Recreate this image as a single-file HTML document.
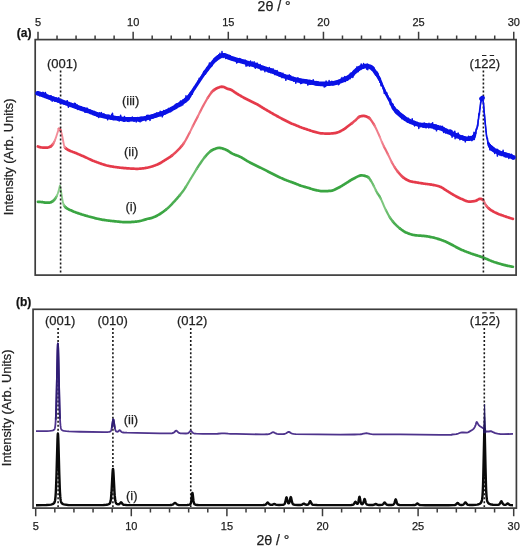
<!DOCTYPE html>
<html><head><meta charset="utf-8"><title>XRD patterns</title>
<style>
html,body{margin:0;padding:0;background:#fff;}
body{width:520px;height:546px;overflow:hidden;}
svg{display:block;}
text{font-family:"Liberation Sans",Arial,sans-serif;fill:#222;stroke:#222;stroke-width:0.25px;}
.tl{font-size:11px;text-anchor:middle;}
.hk{font-size:13px;text-anchor:middle;}
.lb{font-size:13px;}
.pl{font-size:12px;font-weight:bold;fill:#111;}
.ax{font-size:14px;}
.th{font-family:"DejaVu Sans",sans-serif;font-size:13px;}
.yl{font-size:12.9px;text-anchor:middle;}
</style></head>
<body>
<svg width="520" height="546" viewBox="0 0 520 546">
<rect width="520" height="546" fill="#fff"/>
<!-- panel a -->
<text x="257.6" y="11" class="ax">2<tspan class="th">θ</tspan> / °</text>
<text x="38" y="26" class="tl">5</text><text x="133.15" y="26" class="tl">10</text><text x="228.3" y="26" class="tl">15</text><text x="323.45" y="26" class="tl">20</text><text x="418.6" y="26" class="tl">25</text><text x="513.75" y="26" class="tl">30</text>
<text x="16.8" y="37.1" class="pl">(a)</text>
<path d="M38 31.7 V39.6M57.03 35.6 V39.6M76.06 35.6 V39.6M95.09 35.6 V39.6M114.12 35.6 V39.6M133.15 31.7 V39.6M152.18 35.6 V39.6M171.21 35.6 V39.6M190.24 35.6 V39.6M209.27 35.6 V39.6M228.3 31.7 V39.6M247.33 35.6 V39.6M266.36 35.6 V39.6M285.39 35.6 V39.6M304.42 35.6 V39.6M323.45 31.7 V39.6M342.48 35.6 V39.6M361.51 35.6 V39.6M380.54 35.6 V39.6M399.57 35.6 V39.6M418.6 31.7 V39.6M437.63 35.6 V39.6M456.66 35.6 V39.6M475.69 35.6 V39.6M494.72 35.6 V39.6M513.75 31.7 V39.6" stroke="#3c3c3c" stroke-width="1.5" fill="none"/>
<rect x="35.2" y="39.6" width="480.9" height="235.5" fill="none" stroke="#3c3c3c" stroke-width="1.7"/>
<text class="yl" transform="translate(13 156.9) rotate(-90)">Intensity (Arb. Units)</text>
<path d="M37.9 201.8L38.9 201.86M38.9 201.86L39.9 201.93M39.9 201.93L40.9 202.01M40.9 202.01L41.9 202.1M41.9 202.1L42.9 202.23M42.9 202.23L43.9 202.4M43.9 202.4L44.9 202.57M44.9 202.57L45.9 202.68M45.9 202.68L46.9 202.7M46.9 202.7L47.9 202.66M47.9 202.66L48.9 202.6M48.9 202.6L49.9 202.51M49.9 202.51L50.9 202.27M50.9 202.27L51.9 201.76M51.9 201.76L52.9 201.06M65.9 207.56L66.9 208.31M66.9 208.31L67.9 208.93M67.9 208.93L68.9 209.46M68.9 209.46L69.9 209.93M69.9 209.93L70.9 210.36M70.9 210.36L71.9 210.8M71.9 210.8L72.9 211.24M72.9 211.24L73.9 211.65M73.9 211.65L74.9 212.05M74.9 212.05L75.9 212.42M75.9 212.42L76.9 212.79M76.9 212.79L77.9 213.13M77.9 213.13L78.9 213.47M78.9 213.47L79.9 213.81M79.9 213.81L80.9 214.13M80.9 214.13L81.9 214.46M81.9 214.46L82.9 214.77M82.9 214.77L83.9 215.08M83.9 215.08L84.9 215.38M84.9 215.38L85.9 215.68M85.9 215.68L86.9 215.96M86.9 215.96L87.9 216.24M87.9 216.24L88.9 216.51M88.9 216.51L89.9 216.77M89.9 216.77L90.9 217.03M90.9 217.03L91.9 217.29M91.9 217.29L92.9 217.55M92.9 217.55L93.9 217.81M93.9 217.81L94.9 218.07M94.9 218.07L95.9 218.32M95.9 218.32L96.9 218.56M96.9 218.56L97.9 218.79M97.9 218.79L98.9 219.02M98.9 219.02L99.9 219.23M99.9 219.23L100.9 219.44M100.9 219.44L101.9 219.63M101.9 219.63L102.9 219.8M102.9 219.8L103.9 219.96M103.9 219.96L104.9 220.11M104.9 220.11L105.9 220.26M105.9 220.26L106.9 220.4M106.9 220.4L107.9 220.53M107.9 220.53L108.9 220.65M108.9 220.65L109.9 220.78M109.9 220.78L110.9 220.89M110.9 220.89L111.9 221M111.9 221L112.9 221.11M112.9 221.11L113.9 221.21M113.9 221.21L114.9 221.31M114.9 221.31L115.9 221.41M115.9 221.41L116.9 221.5M116.9 221.5L117.9 221.59M117.9 221.59L118.9 221.69M118.9 221.69L119.9 221.79M119.9 221.79L120.9 221.89M120.9 221.89L121.9 221.98M121.9 221.98L122.9 222.06M122.9 222.06L123.9 222.13M123.9 222.13L124.9 222.17M124.9 222.17L125.9 222.2M125.9 222.2L126.9 222.2M126.9 222.2L127.9 222.18M127.9 222.18L128.9 222.15M128.9 222.15L129.9 222.1M129.9 222.1L130.9 222.04M130.9 222.04L131.9 221.97M131.9 221.97L132.9 221.9M132.9 221.9L133.9 221.81M133.9 221.81L134.9 221.72M134.9 221.72L135.9 221.62M135.9 221.62L136.9 221.52M136.9 221.52L137.9 221.4M137.9 221.4L138.9 221.23M138.9 221.23L139.9 221.02M139.9 221.02L140.9 220.78M140.9 220.78L141.9 220.51M141.9 220.51L142.9 220.23M142.9 220.23L143.9 219.93M143.9 219.93L144.9 219.63M144.9 219.63L145.9 219.34M145.9 219.34L146.9 219.06M146.9 219.06L147.9 218.8M147.9 218.8L148.9 218.57M148.9 218.57L149.9 218.34M149.9 218.34L150.9 218.11M150.9 218.11L151.9 217.83M151.9 217.83L152.9 217.5M152.9 217.5L153.9 217.11M153.9 217.11L154.9 216.67M154.9 216.67L155.9 216.2M155.9 216.2L156.9 215.69M156.9 215.69L157.9 215.16M157.9 215.16L158.9 214.61M158.9 214.61L159.9 214.01M159.9 214.01L160.9 213.38M160.9 213.38L161.9 212.71M161.9 212.71L162.9 212M162.9 212L163.9 211.26M163.9 211.26L164.9 210.49M164.9 210.49L165.9 209.69M210.9 150.93L211.9 150.26M211.9 150.26L212.9 149.76M212.9 149.76L213.9 149.32M213.9 149.32L214.9 148.9M214.9 148.9L215.9 148.53M215.9 148.53L216.9 148.22M216.9 148.22L217.9 148.01M217.9 148.01L218.9 147.91M218.9 147.91L219.9 147.93M219.9 147.93L220.9 148.07M220.9 148.07L221.9 148.31M221.9 148.31L222.9 148.61M222.9 148.61L223.9 148.96M223.9 148.96L224.9 149.32M224.9 149.32L225.9 149.7M225.9 149.7L226.9 150.19M226.9 150.19L227.9 150.78M227.9 150.78L228.9 151.44M228.9 151.44L229.9 152.11M229.9 152.11L230.9 152.77M230.9 152.77L231.9 153.38M231.9 153.38L232.9 153.89M232.9 153.89L233.9 154.34M233.9 154.34L234.9 154.74M234.9 154.74L235.9 155.11M235.9 155.11L236.9 155.48M236.9 155.48L237.9 155.85M237.9 155.85L238.9 156.24M238.9 156.24L239.9 156.67M239.9 156.67L240.9 157.15M240.9 157.15L241.9 157.69M241.9 157.69L242.9 158.29M242.9 158.29L243.9 158.91M243.9 158.91L244.9 159.55M244.9 159.55L245.9 160.19M245.9 160.19L246.9 160.81M246.9 160.81L247.9 161.39M247.9 161.39L248.9 161.93M248.9 161.93L249.9 162.46M249.9 162.46L250.9 162.97M250.9 162.97L251.9 163.47M251.9 163.47L252.9 163.97M252.9 163.97L253.9 164.46M253.9 164.46L254.9 164.95M254.9 164.95L255.9 165.45M255.9 165.45L256.9 165.95M256.9 165.95L257.9 166.44M257.9 166.44L258.9 166.93M258.9 166.93L259.9 167.42M259.9 167.42L260.9 167.91M260.9 167.91L261.9 168.41M261.9 168.41L262.9 168.9M262.9 168.9L263.9 169.4M263.9 169.4L264.9 169.9M264.9 169.9L265.9 170.41M265.9 170.41L266.9 170.92M266.9 170.92L267.9 171.43M267.9 171.43L268.9 171.94M268.9 171.94L269.9 172.44M269.9 172.44L270.9 172.95M270.9 172.95L271.9 173.45M271.9 173.45L272.9 173.96M272.9 173.96L273.9 174.47M273.9 174.47L274.9 174.98M274.9 174.98L275.9 175.49M275.9 175.49L276.9 175.98M276.9 175.98L277.9 176.47M277.9 176.47L278.9 176.95M278.9 176.95L279.9 177.41M279.9 177.41L280.9 177.88M280.9 177.88L281.9 178.33M281.9 178.33L282.9 178.78M282.9 178.78L283.9 179.22M283.9 179.22L284.9 179.64M284.9 179.64L285.9 180.06M285.9 180.06L286.9 180.46M286.9 180.46L287.9 180.84M287.9 180.84L288.9 181.2M288.9 181.2L289.9 181.56M289.9 181.56L290.9 181.91M290.9 181.91L291.9 182.26M291.9 182.26L292.9 182.62M292.9 182.62L293.9 182.99M293.9 182.99L294.9 183.37M294.9 183.37L295.9 183.78M295.9 183.78L296.9 184.19M296.9 184.19L297.9 184.61M297.9 184.61L298.9 185M298.9 185L299.9 185.37M299.9 185.37L300.9 185.7M300.9 185.7L301.9 186.02M301.9 186.02L302.9 186.32M302.9 186.32L303.9 186.61M303.9 186.61L304.9 186.89M304.9 186.89L305.9 187.18M305.9 187.18L306.9 187.46M306.9 187.46L307.9 187.76M307.9 187.76L308.9 188.07M308.9 188.07L309.9 188.4M309.9 188.4L310.9 188.73M310.9 188.73L311.9 189.05M311.9 189.05L312.9 189.36M312.9 189.36L313.9 189.64M313.9 189.64L314.9 189.89M314.9 189.89L315.9 190.1M315.9 190.1L316.9 190.32M316.9 190.32L317.9 190.53M317.9 190.53L318.9 190.73M318.9 190.73L319.9 190.91M319.9 190.91L320.9 191.05M320.9 191.05L321.9 191.15M321.9 191.15L322.9 191.2M322.9 191.2L323.9 191.19M323.9 191.19L324.9 191.17M324.9 191.17L325.9 191.14M325.9 191.14L326.9 191.09M326.9 191.09L327.9 191.03M327.9 191.03L328.9 190.96M328.9 190.96L329.9 190.88M329.9 190.88L330.9 190.79M330.9 190.79L331.9 190.62M331.9 190.62L332.9 190.33M332.9 190.33L333.9 189.95M333.9 189.95L334.9 189.51M334.9 189.51L335.9 189.02M335.9 189.02L336.9 188.5M336.9 188.5L337.9 187.99M337.9 187.99L338.9 187.5M338.9 187.5L339.9 186.97M339.9 186.97L340.9 186.4M340.9 186.4L341.9 185.8M341.9 185.8L342.9 185.17M342.9 185.17L343.9 184.53M343.9 184.53L344.9 183.9M344.9 183.9L345.9 183.28M345.9 183.28L346.9 182.67M346.9 182.67L347.9 182.04M347.9 182.04L348.9 181.4M348.9 181.4L349.9 180.75M349.9 180.75L350.9 180.12M350.9 180.12L351.9 179.52M351.9 179.52L352.9 178.96M352.9 178.96L353.9 178.45M353.9 178.45L354.9 177.94M354.9 177.94L355.9 177.4M355.9 177.4L356.9 176.86M356.9 176.86L357.9 176.37M357.9 176.37L358.9 175.94M358.9 175.94L359.9 175.62M359.9 175.62L360.9 175.43M360.9 175.43L361.9 175.41M361.9 175.41L362.9 175.49M362.9 175.49L363.9 175.66M363.9 175.66L364.9 175.9M364.9 175.9L365.9 176.21M365.9 176.21L366.9 176.57M366.9 176.57L367.9 177M399.9 228.45L400.9 229.25M400.9 229.25L401.9 230.01M401.9 230.01L402.9 230.71M402.9 230.71L403.9 231.35M403.9 231.35L404.9 231.93M404.9 231.93L405.9 232.43M405.9 232.43L406.9 232.85M406.9 232.85L407.9 233.25M407.9 233.25L408.9 233.62M408.9 233.62L409.9 233.97M409.9 233.97L410.9 234.28M410.9 234.28L411.9 234.57M411.9 234.57L412.9 234.81M412.9 234.81L413.9 235.02M413.9 235.02L414.9 235.19M414.9 235.19L415.9 235.31M415.9 235.31L416.9 235.42M416.9 235.42L417.9 235.51M417.9 235.51L418.9 235.58M418.9 235.58L419.9 235.65M419.9 235.65L420.9 235.72M420.9 235.72L421.9 235.78M421.9 235.78L422.9 235.86M422.9 235.86L423.9 235.94M423.9 235.94L424.9 236.04M424.9 236.04L425.9 236.16M425.9 236.16L426.9 236.31M426.9 236.31L427.9 236.47M427.9 236.47L428.9 236.65M428.9 236.65L429.9 236.85M429.9 236.85L430.9 237.06M430.9 237.06L431.9 237.28M431.9 237.28L432.9 237.51M432.9 237.51L433.9 237.75M433.9 237.75L434.9 238M434.9 238L435.9 238.26M435.9 238.26L436.9 238.54M436.9 238.54L437.9 238.84M437.9 238.84L438.9 239.15M438.9 239.15L439.9 239.47M439.9 239.47L440.9 239.81M440.9 239.81L441.9 240.16M441.9 240.16L442.9 240.53M442.9 240.53L443.9 240.91M443.9 240.91L444.9 241.3M444.9 241.3L445.9 241.72M445.9 241.72L446.9 242.18M446.9 242.18L447.9 242.67M447.9 242.67L448.9 243.18M448.9 243.18L449.9 243.7M449.9 243.7L450.9 244.23M450.9 244.23L451.9 244.75M451.9 244.75L452.9 245.27M452.9 245.27L453.9 245.82M453.9 245.82L454.9 246.38M454.9 246.38L455.9 246.95M455.9 246.95L456.9 247.51M456.9 247.51L457.9 248.05M457.9 248.05L458.9 248.57M458.9 248.57L459.9 249.05M459.9 249.05L460.9 249.51M460.9 249.51L461.9 249.95M461.9 249.95L462.9 250.37M462.9 250.37L463.9 250.78M463.9 250.78L464.9 251.18M464.9 251.18L465.9 251.57M465.9 251.57L466.9 251.95M466.9 251.95L467.9 252.32M467.9 252.32L468.9 252.69M468.9 252.69L469.9 253.06M469.9 253.06L470.9 253.43M470.9 253.43L471.9 253.78M471.9 253.78L472.9 254.12M472.9 254.12L473.9 254.45M473.9 254.45L474.9 254.78M474.9 254.78L475.9 255.11M475.9 255.11L476.9 255.43M476.9 255.43L477.9 255.76M477.9 255.76L478.9 256.08M478.9 256.08L479.9 256.42M479.9 256.42L480.9 256.76M480.9 256.76L481.9 257.1M481.9 257.1L482.9 257.46M482.9 257.46L483.9 257.84M483.9 257.84L484.9 258.24M484.9 258.24L485.9 258.65M485.9 258.65L486.9 259.08M486.9 259.08L487.9 259.51M487.9 259.51L488.9 259.94M488.9 259.94L489.9 260.37M489.9 260.37L490.9 260.79M490.9 260.79L491.9 261.19M491.9 261.19L492.9 261.58M492.9 261.58L493.9 261.94M493.9 261.94L494.9 262.27M494.9 262.27L495.9 262.58M495.9 262.58L496.9 262.89M496.9 262.89L497.9 263.19M497.9 263.19L498.9 263.48M498.9 263.48L499.9 263.77M499.9 263.77L500.9 264.06M500.9 264.06L501.9 264.34M501.9 264.34L502.9 264.61M502.9 264.61L503.9 264.87M503.9 264.87L504.9 265.12M504.9 265.12L505.9 265.37M505.9 265.37L506.9 265.6M506.9 265.6L507.9 265.83M507.9 265.83L508.9 266.04M508.9 266.04L509.9 266.24M509.9 266.24L510.9 266.44M510.9 266.44L511.9 266.62M511.9 266.62L512.9 266.78" stroke="#3aa542" stroke-width="2.7" fill="none" stroke-linecap="round"/>
<path d="M52.9 201.06L53.9 200.25M53.9 200.25L54.9 199.09M64.9 206.58L65.9 207.56M165.9 209.69L166.9 208.87M166.9 208.87L167.9 207.99M167.9 207.99L168.9 207.06M168.9 207.06L169.9 206.08M169.9 206.08L170.9 205.06M170.9 205.06L171.9 204.02M171.9 204.02L172.9 202.95M172.9 202.95L173.9 201.87M173.9 201.87L174.9 200.78M174.9 200.78L175.9 199.69M175.9 199.69L176.9 198.58M176.9 198.58L177.9 197.44M177.9 197.44L178.9 196.28M178.9 196.28L179.9 195.09M204.9 156.96L205.9 155.81M205.9 155.81L206.9 154.74M206.9 154.74L207.9 153.68M207.9 153.68L208.9 152.67M208.9 152.67L209.9 151.75M209.9 151.75L210.9 150.93M367.9 177L368.9 177.85M392.9 221.59L393.9 222.78M393.9 222.78L394.9 223.88M394.9 223.88L395.9 224.91M395.9 224.91L396.9 225.87M396.9 225.87L397.9 226.76M397.9 226.76L398.9 227.62M398.9 227.62L399.9 228.45" stroke="#4aad51" stroke-width="2.54" fill="none" stroke-linecap="round"/>
<path d="M54.9 199.09L55.9 197.58M63.9 205.07L64.9 206.58M179.9 195.09L180.9 193.85M180.9 193.85L181.9 192.57M181.9 192.57L182.9 191.24M182.9 191.24L183.9 189.82M183.9 189.82L184.9 188.31M184.9 188.31L185.9 186.72M196.9 168.56L197.9 166.98M197.9 166.98L198.9 165.44M198.9 165.44L199.9 163.96M199.9 163.96L200.9 162.48M200.9 162.48L201.9 161.01M201.9 161.01L202.9 159.59M202.9 159.59L203.9 158.23M203.9 158.23L204.9 156.96M368.9 177.85L369.9 179.17M369.9 179.17L370.9 180.76M377.9 193.91L378.9 195.39M378.9 195.39L379.9 196.97M389.9 217.5L390.9 218.98M390.9 218.98L391.9 220.33M391.9 220.33L392.9 221.59" stroke="#5bb560" stroke-width="2.38" fill="none" stroke-linecap="round"/>
<path d="M55.9 197.58L56.9 195.74M185.9 186.72L186.9 185.08M186.9 185.08L187.9 183.4M187.9 183.4L188.9 181.71M188.9 181.71L189.9 180.03M189.9 180.03L190.9 178.39M190.9 178.39L191.9 176.77M191.9 176.77L192.9 175.12M192.9 175.12L193.9 173.47M193.9 173.47L194.9 171.82M194.9 171.82L195.9 170.18M195.9 170.18L196.9 168.56M370.9 180.76L371.9 182.44M371.9 182.44L372.9 184.14M372.9 184.14L373.9 186.13M375.9 190.39L376.9 192.3M376.9 192.3L377.9 193.91M379.9 196.97L380.9 198.87M385.9 210.1L386.9 212.09M386.9 212.09L387.9 214.01M387.9 214.01L388.9 215.83M388.9 215.83L389.9 217.5" stroke="#6bbe6e" stroke-width="2.22" fill="none" stroke-linecap="round"/>
<path d="M373.9 186.13L374.9 188.27M374.9 188.27L375.9 190.39M380.9 198.87L381.9 201.07M381.9 201.07L382.9 203.42M382.9 203.42L383.9 205.8M383.9 205.8L384.9 208.06M384.9 208.06L385.9 210.1" stroke="#7cc67d" stroke-width="2.06" fill="none" stroke-linecap="round"/>
<path d="M56.9 195.74L57.9 193.26M57.9 193.26L58.9 189.67M58.9 189.67L59.9 185.66M59.9 185.66L60.9 190.72M60.9 190.72L61.9 196.85M61.9 196.85L62.9 202.42M62.9 202.42L63.9 205.07" stroke="#8cce8c" stroke-width="1.9" fill="none" stroke-linecap="round"/>
<path d="M37.9 146.5L38.9 146.84M38.9 146.84L39.9 147.14M39.9 147.14L40.9 147.37M40.9 147.37L41.9 147.5M41.9 147.5L42.9 147.57M42.9 147.57L43.9 147.63M43.9 147.63L44.9 147.67M44.9 147.67L45.9 147.7M45.9 147.7L46.9 147.68M46.9 147.68L47.9 147.52M47.9 147.52L48.9 147.22M48.9 147.22L49.9 146.84M49.9 146.84L50.9 146.27M58.9 128.93L59.9 129.47M65.9 148.4L66.9 149.14M66.9 149.14L67.9 149.77M67.9 149.77L68.9 150.31M68.9 150.31L69.9 150.78M69.9 150.78L70.9 151.19M70.9 151.19L71.9 151.57M71.9 151.57L72.9 151.94M72.9 151.94L73.9 152.3M73.9 152.3L74.9 152.69M74.9 152.69L75.9 153.11M75.9 153.11L76.9 153.54M76.9 153.54L77.9 153.96M77.9 153.96L78.9 154.38M78.9 154.38L79.9 154.8M79.9 154.8L80.9 155.23M80.9 155.23L81.9 155.65M81.9 155.65L82.9 156.08M82.9 156.08L83.9 156.52M83.9 156.52L84.9 156.97M84.9 156.97L85.9 157.43M85.9 157.43L86.9 157.9M86.9 157.9L87.9 158.38M87.9 158.38L88.9 158.85M88.9 158.85L89.9 159.32M89.9 159.32L90.9 159.78M90.9 159.78L91.9 160.23M91.9 160.23L92.9 160.66M92.9 160.66L93.9 161.07M93.9 161.07L94.9 161.46M94.9 161.46L95.9 161.83M95.9 161.83L96.9 162.21M96.9 162.21L97.9 162.58M97.9 162.58L98.9 162.94M98.9 162.94L99.9 163.3M99.9 163.3L100.9 163.65M100.9 163.65L101.9 164M101.9 164L102.9 164.33M102.9 164.33L103.9 164.65M103.9 164.65L104.9 164.95M104.9 164.95L105.9 165.24M105.9 165.24L106.9 165.51M106.9 165.51L107.9 165.75M107.9 165.75L108.9 165.98M108.9 165.98L109.9 166.18M109.9 166.18L110.9 166.36M110.9 166.36L111.9 166.54M111.9 166.54L112.9 166.7M112.9 166.7L113.9 166.86M113.9 166.86L114.9 167M114.9 167L115.9 167.14M115.9 167.14L116.9 167.28M116.9 167.28L117.9 167.4M117.9 167.4L118.9 167.52M118.9 167.52L119.9 167.64M119.9 167.64L120.9 167.74M120.9 167.74L121.9 167.85M121.9 167.85L122.9 167.94M122.9 167.94L123.9 168.04M123.9 168.04L124.9 168.12M124.9 168.12L125.9 168.21M125.9 168.21L126.9 168.28M126.9 168.28L127.9 168.36M127.9 168.36L128.9 168.42M128.9 168.42L129.9 168.48M129.9 168.48L130.9 168.54M130.9 168.54L131.9 168.6M131.9 168.6L132.9 168.66M132.9 168.66L133.9 168.71M133.9 168.71L134.9 168.76M134.9 168.76L135.9 168.79M135.9 168.79L136.9 168.8M136.9 168.8L137.9 168.78M137.9 168.78L138.9 168.74M138.9 168.74L139.9 168.67M139.9 168.67L140.9 168.58M140.9 168.58L141.9 168.48M141.9 168.48L142.9 168.38M142.9 168.38L143.9 168.27M143.9 168.27L144.9 168.12M144.9 168.12L145.9 167.95M145.9 167.95L146.9 167.75M146.9 167.75L147.9 167.52M147.9 167.52L148.9 167.28M148.9 167.28L149.9 167.03M149.9 167.03L150.9 166.77M150.9 166.77L151.9 166.48M151.9 166.48L152.9 166.17M152.9 166.17L153.9 165.83M153.9 165.83L154.9 165.46M154.9 165.46L155.9 165.08M155.9 165.08L156.9 164.68M156.9 164.68L157.9 164.25M157.9 164.25L158.9 163.77M158.9 163.77L159.9 163.25M159.9 163.25L160.9 162.7M160.9 162.7L161.9 162.1M161.9 162.1L162.9 161.47M162.9 161.47L163.9 160.83M163.9 160.83L164.9 160.18M164.9 160.18L165.9 159.54M165.9 159.54L166.9 158.91M166.9 158.91L167.9 158.29M167.9 158.29L168.9 157.66M168.9 157.66L169.9 157.01M169.9 157.01L170.9 156.31M170.9 156.31L171.9 155.57M213.9 90.05L214.9 89.33M214.9 89.33L215.9 88.74M215.9 88.74L216.9 88.28M216.9 88.28L217.9 87.83M217.9 87.83L218.9 87.41M218.9 87.41L219.9 87.06M219.9 87.06L220.9 86.82M220.9 86.82L221.9 86.7M221.9 86.7L222.9 86.78M222.9 86.78L223.9 87.08M223.9 87.08L224.9 87.51M224.9 87.51L225.9 88.01M225.9 88.01L226.9 88.49M226.9 88.49L227.9 88.87M227.9 88.87L228.9 89.12M228.9 89.12L229.9 89.37M229.9 89.37L230.9 89.76M230.9 89.76L231.9 90.29M231.9 90.29L232.9 90.92M232.9 90.92L233.9 91.61M233.9 91.61L234.9 92.31M234.9 92.31L235.9 92.99M235.9 92.99L236.9 93.62M236.9 93.62L237.9 94.22M237.9 94.22L238.9 94.83M238.9 94.83L239.9 95.43M239.9 95.43L240.9 96.02M240.9 96.02L241.9 96.6M241.9 96.6L242.9 97.17M242.9 97.17L243.9 97.72M243.9 97.72L244.9 98.24M244.9 98.24L245.9 98.76M245.9 98.76L246.9 99.26M246.9 99.26L247.9 99.76M247.9 99.76L248.9 100.25M248.9 100.25L249.9 100.75M249.9 100.75L250.9 101.25M250.9 101.25L251.9 101.73M251.9 101.73L252.9 102.2M252.9 102.2L253.9 102.68M253.9 102.68L254.9 103.17M254.9 103.17L255.9 103.67M255.9 103.67L256.9 104.2M256.9 104.2L257.9 104.77M257.9 104.77L258.9 105.36M258.9 105.36L259.9 105.98M259.9 105.98L260.9 106.62M260.9 106.62L261.9 107.25M261.9 107.25L262.9 107.87M262.9 107.87L263.9 108.48M263.9 108.48L264.9 109.08M264.9 109.08L265.9 109.67M265.9 109.67L266.9 110.26M266.9 110.26L267.9 110.85M267.9 110.85L268.9 111.43M268.9 111.43L269.9 112.01M269.9 112.01L270.9 112.59M270.9 112.59L271.9 113.16M271.9 113.16L272.9 113.74M272.9 113.74L273.9 114.31M273.9 114.31L274.9 114.87M274.9 114.87L275.9 115.43M275.9 115.43L276.9 115.99M276.9 115.99L277.9 116.54M277.9 116.54L278.9 117.09M278.9 117.09L279.9 117.63M279.9 117.63L280.9 118.17M280.9 118.17L281.9 118.7M281.9 118.7L282.9 119.23M282.9 119.23L283.9 119.75M283.9 119.75L284.9 120.27M284.9 120.27L285.9 120.79M285.9 120.79L286.9 121.31M286.9 121.31L287.9 121.81M287.9 121.81L288.9 122.31M288.9 122.31L289.9 122.78M289.9 122.78L290.9 123.23M290.9 123.23L291.9 123.66M291.9 123.66L292.9 124.07M292.9 124.07L293.9 124.46M293.9 124.46L294.9 124.85M294.9 124.85L295.9 125.24M295.9 125.24L296.9 125.64M296.9 125.64L297.9 126.05M297.9 126.05L298.9 126.47M298.9 126.47L299.9 126.89M299.9 126.89L300.9 127.29M300.9 127.29L301.9 127.67M301.9 127.67L302.9 128.04M302.9 128.04L303.9 128.39M303.9 128.39L304.9 128.72M304.9 128.72L305.9 129.05M305.9 129.05L306.9 129.38M306.9 129.38L307.9 129.71M307.9 129.71L308.9 130.03M308.9 130.03L309.9 130.36M309.9 130.36L310.9 130.7M310.9 130.7L311.9 131.03M311.9 131.03L312.9 131.35M312.9 131.35L313.9 131.65M313.9 131.65L314.9 131.92M314.9 131.92L315.9 132.18M315.9 132.18L316.9 132.45M316.9 132.45L317.9 132.71M317.9 132.71L318.9 132.95M318.9 132.95L319.9 133.15M319.9 133.15L320.9 133.31M320.9 133.31L321.9 133.4M321.9 133.4L322.9 133.45M322.9 133.45L323.9 133.49M323.9 133.49L324.9 133.53M324.9 133.53L325.9 133.56M325.9 133.56L326.9 133.58M326.9 133.58L327.9 133.6M327.9 133.6L328.9 133.6M328.9 133.6L329.9 133.57M329.9 133.57L330.9 133.52M330.9 133.52L331.9 133.43M331.9 133.43L332.9 133.33M332.9 133.33L333.9 133.21M333.9 133.21L334.9 133.07M334.9 133.07L335.9 132.91M335.9 132.91L336.9 132.66M336.9 132.66L337.9 132.31M337.9 132.31L338.9 131.89M338.9 131.89L339.9 131.42M339.9 131.42L340.9 130.92M340.9 130.92L341.9 130.4M341.9 130.4L342.9 129.86M342.9 129.86L343.9 129.24M343.9 129.24L344.9 128.55M344.9 128.55L345.9 127.81M345.9 127.81L346.9 127.05M346.9 127.05L347.9 126.28M347.9 126.28L348.9 125.53M348.9 125.53L349.9 124.77M349.9 124.77L350.9 124M350.9 124L351.9 123.21M358.9 117.02L359.9 116.5M359.9 116.5L360.9 116.24M360.9 116.24L361.9 116.04M361.9 116.04L362.9 115.92M362.9 115.92L363.9 115.91M363.9 115.91L364.9 116.06M364.9 116.06L365.9 116.34M365.9 116.34L366.9 116.72M366.9 116.72L367.9 117.16M367.9 117.16L368.9 117.74M402.9 177.17L403.9 177.96M403.9 177.96L404.9 178.62M404.9 178.62L405.9 179.24M405.9 179.24L406.9 179.81M406.9 179.81L407.9 180.33M407.9 180.33L408.9 180.79M408.9 180.79L409.9 181.17M409.9 181.17L410.9 181.47M410.9 181.47L411.9 181.7M411.9 181.7L412.9 181.87M412.9 181.87L413.9 182.03M413.9 182.03L414.9 182.18M414.9 182.18L415.9 182.35M415.9 182.35L416.9 182.52M416.9 182.52L417.9 182.68M417.9 182.68L418.9 182.85M418.9 182.85L419.9 183.01M419.9 183.01L420.9 183.17M420.9 183.17L421.9 183.33M421.9 183.33L422.9 183.48M422.9 183.48L423.9 183.63M423.9 183.63L424.9 183.77M424.9 183.77L425.9 183.9M425.9 183.9L426.9 184.02M426.9 184.02L427.9 184.15M427.9 184.15L428.9 184.27M428.9 184.27L429.9 184.41M429.9 184.41L430.9 184.55M430.9 184.55L431.9 184.71M431.9 184.71L432.9 184.89M432.9 184.89L433.9 185.08M433.9 185.08L434.9 185.29M434.9 185.29L435.9 185.51M435.9 185.51L436.9 185.76M436.9 185.76L437.9 186.03M437.9 186.03L438.9 186.33M438.9 186.33L439.9 186.66M439.9 186.66L440.9 187.07M440.9 187.07L441.9 187.59M441.9 187.59L442.9 188.19M442.9 188.19L443.9 188.84M443.9 188.84L444.9 189.52M444.9 189.52L445.9 190.2M445.9 190.2L446.9 190.85M446.9 190.85L447.9 191.46M447.9 191.46L448.9 192.08M448.9 192.08L449.9 192.7M449.9 192.7L450.9 193.32M450.9 193.32L451.9 193.94M451.9 193.94L452.9 194.54M452.9 194.54L453.9 195.11M453.9 195.11L454.9 195.66M454.9 195.66L455.9 196.2M455.9 196.2L456.9 196.73M456.9 196.73L457.9 197.25M457.9 197.25L458.9 197.75M458.9 197.75L459.9 198.23M459.9 198.23L460.9 198.68M460.9 198.68L461.9 199.1M461.9 199.1L462.9 199.53M462.9 199.53L463.9 199.99M463.9 199.99L464.9 200.44M464.9 200.44L465.9 200.86M465.9 200.86L466.9 201.21M466.9 201.21L467.9 201.47M467.9 201.47L468.9 201.59M468.9 201.59L469.9 201.59M469.9 201.59L470.9 201.54M470.9 201.54L471.9 201.45M471.9 201.45L472.9 201.33M472.9 201.33L473.9 201.19M473.9 201.19L474.9 201.03M474.9 201.03L475.9 200.76M475.9 200.76L476.9 200.25M476.9 200.25L477.9 199.64M477.9 199.64L478.9 199.11M478.9 199.11L479.9 198.82M479.9 198.82L480.9 198.88M480.9 198.88L481.9 199.22M481.9 199.22L482.9 199.77M488.9 208.51L489.9 209.31M489.9 209.31L490.9 210.03M490.9 210.03L491.9 210.68M491.9 210.68L492.9 211.28M492.9 211.28L493.9 211.83M493.9 211.83L494.9 212.35M494.9 212.35L495.9 212.85M495.9 212.85L496.9 213.31M496.9 213.31L497.9 213.74M497.9 213.74L498.9 214.14M498.9 214.14L499.9 214.52M499.9 214.52L500.9 214.88M500.9 214.88L501.9 215.24M501.9 215.24L502.9 215.6M502.9 215.6L503.9 215.96M503.9 215.96L504.9 216.31M504.9 216.31L505.9 216.65M505.9 216.65L506.9 216.99M506.9 216.99L507.9 217.32M507.9 217.32L508.9 217.64M508.9 217.64L509.9 217.95M509.9 217.95L510.9 218.26M510.9 218.26L511.9 218.56M511.9 218.56L512.9 218.84" stroke="#e53a4a" stroke-width="2.7" fill="none" stroke-linecap="round"/>
<path d="M50.9 146.27L51.9 145.36M51.9 145.36L52.9 144.2M64.9 147.28L65.9 148.4M171.9 155.57L172.9 154.77M172.9 154.77L173.9 153.91M173.9 153.91L174.9 153.01M174.9 153.01L175.9 152.07M175.9 152.07L176.9 151.1M176.9 151.1L177.9 150.1M177.9 150.1L178.9 149.09M178.9 149.09L179.9 148.04M179.9 148.04L180.9 146.94M180.9 146.94L181.9 145.75M211.9 91.95L212.9 90.89M212.9 90.89L213.9 90.05M351.9 123.21L352.9 122.41M352.9 122.41L353.9 121.6M353.9 121.6L354.9 120.78M354.9 120.78L355.9 119.94M355.9 119.94L356.9 118.94M356.9 118.94L357.9 117.9M357.9 117.9L358.9 117.02M368.9 117.74L369.9 118.68M397.9 171.82L398.9 173.02M398.9 173.02L399.9 174.17M399.9 174.17L400.9 175.26M400.9 175.26L401.9 176.26M401.9 176.26L402.9 177.17M486.9 206.48L487.9 207.62M487.9 207.62L488.9 208.51" stroke="#e84b5a" stroke-width="2.54" fill="none" stroke-linecap="round"/>
<path d="M59.9 129.47L60.9 131.02M181.9 145.75L182.9 144.47M182.9 144.47L183.9 143.04M207.9 97.63L208.9 96.06M208.9 96.06L209.9 94.62M209.9 94.62L210.9 93.23M210.9 93.23L211.9 91.95M369.9 118.68L370.9 119.91M370.9 119.91L371.9 121.32M371.9 121.32L372.9 122.8M372.9 122.8L373.9 124.38M394.9 167.62L395.9 169.14M395.9 169.14L396.9 170.55M396.9 170.55L397.9 171.82M482.9 199.77L483.9 201.12M485.9 205.11L486.9 206.48" stroke="#eb5c6a" stroke-width="2.38" fill="none" stroke-linecap="round"/>
<path d="M52.9 144.2L53.9 142.54M183.9 143.04L184.9 141.44M184.9 141.44L185.9 139.7M185.9 139.7L186.9 137.87M186.9 137.87L187.9 135.98M187.9 135.98L188.9 134.08M188.9 134.08L189.9 132.15M192.9 126L193.9 124.02M193.9 124.02L194.9 122.07M194.9 122.07L195.9 120.13M195.9 120.13L196.9 118.18M196.9 118.18L197.9 116.2M199.9 112.16L200.9 110.16M200.9 110.16L201.9 108.24M201.9 108.24L202.9 106.35M202.9 106.35L203.9 104.51M203.9 104.51L204.9 102.72M204.9 102.72L205.9 100.99M205.9 100.99L206.9 99.28M206.9 99.28L207.9 97.63M373.9 124.38L374.9 126.23M383.9 146.38L384.9 148.38M384.9 148.38L385.9 150.31M385.9 150.31L386.9 152.24M386.9 152.24L387.9 154.2M391.9 162.46L392.9 164.3M392.9 164.3L393.9 166M393.9 166L394.9 167.62M484.9 203.45L485.9 205.11" stroke="#ed6c7a" stroke-width="2.22" fill="none" stroke-linecap="round"/>
<path d="M53.9 142.54L54.9 140.32M189.9 132.15L190.9 130.12M190.9 130.12L191.9 128.05M191.9 128.05L192.9 126M197.9 116.2L198.9 114.18M198.9 114.18L199.9 112.16M374.9 126.23L375.9 128.26M375.9 128.26L376.9 130.4M376.9 130.4L377.9 132.57M377.9 132.57L378.9 134.79M378.9 134.79L379.9 137.16M381.9 142.01L382.9 144.28M382.9 144.28L383.9 146.38M387.9 154.2L388.9 156.25M388.9 156.25L389.9 158.36M389.9 158.36L390.9 160.45M390.9 160.45L391.9 162.46M483.9 201.12L484.9 203.45" stroke="#f07d8a" stroke-width="2.06" fill="none" stroke-linecap="round"/>
<path d="M54.9 140.32L55.9 137.66M55.9 137.66L56.9 134.48M56.9 134.48L57.9 131.45M57.9 131.45L58.9 128.93M60.9 131.02L61.9 134.53M61.9 134.53L62.9 139.47M62.9 139.47L63.9 144.86M63.9 144.86L64.9 147.28M379.9 137.16L380.9 139.61M380.9 139.61L381.9 142.01" stroke="#f38e9a" stroke-width="1.9" fill="none" stroke-linecap="round"/>
<path d="M60.6 70.5 V274 M483.4 70.5 V274" stroke="#1a1a1a" stroke-width="1.6" stroke-dasharray="2 2" fill="none"/>
<path d="M37.5 93.3L38.5 93.56M38.5 93.56L39.5 93.85M39.5 93.85L40.5 94.17M40.5 94.17L41.5 94.51M41.5 94.51L42.5 94.87M42.5 94.87L43.5 95.24M43.5 95.24L44.5 95.62M44.5 95.62L45.5 96M45.5 96L46.5 96.38M46.5 96.38L47.5 96.74M47.5 96.74L48.5 97.1M48.5 97.1L49.5 97.45M49.5 97.45L50.5 97.79M50.5 97.79L51.5 98.13M51.5 98.13L52.5 98.46M52.5 98.46L53.5 98.8M53.5 98.8L54.5 99.13M54.5 99.13L55.5 99.47M55.5 99.47L56.5 99.8M56.5 99.8L57.5 100.14M57.5 100.14L58.5 100.48M58.5 100.48L59.5 100.82M59.5 100.82L60.5 101.17M60.5 101.17L61.5 101.51M61.5 101.51L62.5 101.87M62.5 101.87L63.5 102.22M63.5 102.22L64.5 102.58M64.5 102.58L65.5 102.94M65.5 102.94L66.5 103.3M66.5 103.3L67.5 103.66M67.5 103.66L68.5 104.02M68.5 104.02L69.5 104.38M69.5 104.38L70.5 104.74M70.5 104.74L71.5 105.1M71.5 105.1L72.5 105.46M72.5 105.46L73.5 105.82M73.5 105.82L74.5 106.18M74.5 106.18L75.5 106.54M75.5 106.54L76.5 106.89M76.5 106.89L77.5 107.24M77.5 107.24L78.5 107.59M78.5 107.59L79.5 107.94M79.5 107.94L80.5 108.29M80.5 108.29L81.5 108.64M81.5 108.64L82.5 108.99M82.5 108.99L83.5 109.34M83.5 109.34L84.5 109.69M84.5 109.69L85.5 110.04M85.5 110.04L86.5 110.39M86.5 110.39L87.5 110.74M87.5 110.74L88.5 111.09M88.5 111.09L89.5 111.45M89.5 111.45L90.5 111.82M90.5 111.82L91.5 112.21M91.5 112.21L92.5 112.6M92.5 112.6L93.5 112.99M93.5 112.99L94.5 113.37M94.5 113.37L95.5 113.75M95.5 113.75L96.5 114.11M96.5 114.11L97.5 114.45M97.5 114.45L98.5 114.77M98.5 114.77L99.5 115.07M99.5 115.07L100.5 115.33M100.5 115.33L101.5 115.58M101.5 115.58L102.5 115.82M102.5 115.82L103.5 116.06M103.5 116.06L104.5 116.29M104.5 116.29L105.5 116.51M105.5 116.51L106.5 116.72M106.5 116.72L107.5 116.92M107.5 116.92L108.5 117.11M108.5 117.11L109.5 117.29M109.5 117.29L110.5 117.46M110.5 117.46L111.5 117.62M111.5 117.62L112.5 117.76M112.5 117.76L113.5 117.9M113.5 117.9L114.5 118.03M114.5 118.03L115.5 118.17M115.5 118.17L116.5 118.3M116.5 118.3L117.5 118.44M117.5 118.44L118.5 118.56M118.5 118.56L119.5 118.69M119.5 118.69L120.5 118.8M120.5 118.8L121.5 118.91M121.5 118.91L122.5 119M122.5 119L123.5 119.08M123.5 119.08L124.5 119.14M124.5 119.14L125.5 119.18M125.5 119.18L126.5 119.2M126.5 119.2L127.5 119.2M127.5 119.2L128.5 119.2M128.5 119.2L129.5 119.2M129.5 119.2L130.5 119.2M130.5 119.2L131.5 119.2M131.5 119.2L132.5 119.2M132.5 119.2L133.5 119.2M133.5 119.2L134.5 119.2M134.5 119.2L135.5 119.2M135.5 119.2L136.5 119.2M136.5 119.2L137.5 119.2M137.5 119.2L138.5 119.18M138.5 119.18L139.5 119.13M139.5 119.13L140.5 119.03M140.5 119.03L141.5 118.91M141.5 118.91L142.5 118.75M142.5 118.75L143.5 118.58M143.5 118.58L144.5 118.4M144.5 118.4L145.5 118.21M145.5 118.21L146.5 118.01M146.5 118.01L147.5 117.82M147.5 117.82L148.5 117.6M148.5 117.6L149.5 117.36M149.5 117.36L150.5 117.08M150.5 117.08L151.5 116.79M151.5 116.79L152.5 116.48M152.5 116.48L153.5 116.16M153.5 116.16L154.5 115.84M154.5 115.84L155.5 115.52M155.5 115.52L156.5 115.2M156.5 115.2L157.5 114.89M157.5 114.89L158.5 114.57M158.5 114.57L159.5 114.26M159.5 114.26L160.5 113.93M160.5 113.93L161.5 113.6M161.5 113.6L162.5 113.25M162.5 113.25L163.5 112.88M163.5 112.88L164.5 112.5M164.5 112.5L165.5 112.09M165.5 112.09L166.5 111.66M166.5 111.66L167.5 111.19M167.5 111.19L168.5 110.7M168.5 110.7L169.5 110.19M169.5 110.19L170.5 109.67M170.5 109.67L171.5 109.13M171.5 109.13L172.5 108.59M172.5 108.59L173.5 108.04M173.5 108.04L174.5 107.47M174.5 107.47L175.5 106.89M175.5 106.89L176.5 106.28M176.5 106.28L177.5 105.66M177.5 105.66L178.5 105.03M178.5 105.03L179.5 104.37M179.5 104.37L180.5 103.7M180.5 103.7L181.5 103.05M181.5 103.05L182.5 102.39M182.5 102.39L183.5 101.71M183.5 101.71L184.5 100.98M184.5 100.98L185.5 100.2M185.5 100.2L186.5 99.35M186.5 99.35L187.5 98.41M215.5 59.47L216.5 58.69M216.5 58.69L217.5 57.97M217.5 57.97L218.5 57.28M218.5 57.28L219.5 56.63M219.5 56.63L220.5 56.07M220.5 56.07L221.5 55.62M221.5 55.62L222.5 55.32M222.5 55.32L223.5 55.2M223.5 55.2L224.5 55.3M224.5 55.3L225.5 55.61M225.5 55.61L226.5 56.07M226.5 56.07L227.5 56.6M227.5 56.6L228.5 57.13M228.5 57.13L229.5 57.61M229.5 57.61L230.5 57.97M230.5 57.97L231.5 58.31M231.5 58.31L232.5 58.63M232.5 58.63L233.5 58.94M233.5 58.94L234.5 59.23M234.5 59.23L235.5 59.53M235.5 59.53L236.5 59.81M236.5 59.81L237.5 60.09M237.5 60.09L238.5 60.37M238.5 60.37L239.5 60.65M239.5 60.65L240.5 60.93M240.5 60.93L241.5 61.21M241.5 61.21L242.5 61.5M242.5 61.5L243.5 61.8M243.5 61.8L244.5 62.1M244.5 62.1L245.5 62.4M245.5 62.4L246.5 62.7M246.5 62.7L247.5 63M247.5 63L248.5 63.3M248.5 63.3L249.5 63.6M249.5 63.6L250.5 63.9M250.5 63.9L251.5 64.2M251.5 64.2L252.5 64.51M252.5 64.51L253.5 64.82M253.5 64.82L254.5 65.13M254.5 65.13L255.5 65.45M255.5 65.45L256.5 65.77M256.5 65.77L257.5 66.1M257.5 66.1L258.5 66.42M258.5 66.42L259.5 66.76M259.5 66.76L260.5 67.09M260.5 67.09L261.5 67.43M261.5 67.43L262.5 67.77M262.5 67.77L263.5 68.12M263.5 68.12L264.5 68.47M264.5 68.47L265.5 68.82M265.5 68.82L266.5 69.17M266.5 69.17L267.5 69.53M267.5 69.53L268.5 69.9M268.5 69.9L269.5 70.27M269.5 70.27L270.5 70.64M270.5 70.64L271.5 71.02M271.5 71.02L272.5 71.42M272.5 71.42L273.5 71.83M273.5 71.83L274.5 72.25M274.5 72.25L275.5 72.67M275.5 72.67L276.5 73.1M276.5 73.1L277.5 73.52M277.5 73.52L278.5 73.95M278.5 73.95L279.5 74.36M279.5 74.36L280.5 74.77M280.5 74.77L281.5 75.16M281.5 75.16L282.5 75.54M282.5 75.54L283.5 75.9M283.5 75.9L284.5 76.24M284.5 76.24L285.5 76.58M285.5 76.58L286.5 76.91M286.5 76.91L287.5 77.25M287.5 77.25L288.5 77.57M288.5 77.57L289.5 77.89M289.5 77.89L290.5 78.2M290.5 78.2L291.5 78.5M291.5 78.5L292.5 78.79M292.5 78.79L293.5 79.07M293.5 79.07L294.5 79.34M294.5 79.34L295.5 79.59M295.5 79.59L296.5 79.82M296.5 79.82L297.5 80.04M297.5 80.04L298.5 80.25M298.5 80.25L299.5 80.44M299.5 80.44L300.5 80.62M300.5 80.62L301.5 80.8M301.5 80.8L302.5 80.96M302.5 80.96L303.5 81.12M303.5 81.12L304.5 81.28M304.5 81.28L305.5 81.43M305.5 81.43L306.5 81.59M306.5 81.59L307.5 81.74M307.5 81.74L308.5 81.9M308.5 81.9L309.5 82.07M309.5 82.07L310.5 82.25M310.5 82.25L311.5 82.44M311.5 82.44L312.5 82.64M312.5 82.64L313.5 82.84M313.5 82.84L314.5 83.03M314.5 83.03L315.5 83.22M315.5 83.22L316.5 83.39M316.5 83.39L317.5 83.55M317.5 83.55L318.5 83.68M318.5 83.68L319.5 83.79M319.5 83.79L320.5 83.86M320.5 83.86L321.5 83.9M321.5 83.9L322.5 83.9M322.5 83.9L323.5 83.89M323.5 83.89L324.5 83.86M324.5 83.86L325.5 83.83M325.5 83.83L326.5 83.79M326.5 83.79L327.5 83.74M327.5 83.74L328.5 83.69M328.5 83.69L329.5 83.62M329.5 83.62L330.5 83.56M330.5 83.56L331.5 83.48M331.5 83.48L332.5 83.38M332.5 83.38L333.5 83.22M333.5 83.22L334.5 83.02M334.5 83.02L335.5 82.78M335.5 82.78L336.5 82.51M336.5 82.51L337.5 82.21M337.5 82.21L338.5 81.88M338.5 81.88L339.5 81.54M339.5 81.54L340.5 81.19M340.5 81.19L341.5 80.82M341.5 80.82L342.5 80.45M342.5 80.45L343.5 80.03M343.5 80.03L344.5 79.57M344.5 79.57L345.5 79.07M345.5 79.07L346.5 78.52M346.5 78.52L347.5 77.93M347.5 77.93L348.5 77.3M348.5 77.3L349.5 76.63M349.5 76.63L350.5 75.93M350.5 75.93L351.5 75.2M351.5 75.2L352.5 74.33M354.5 72.23L355.5 71.24M355.5 71.24L356.5 70.39M356.5 70.39L357.5 69.57M357.5 69.57L358.5 68.79M358.5 68.79L359.5 68.1M359.5 68.1L360.5 67.56M360.5 67.56L361.5 67.18M361.5 67.18L362.5 66.83M362.5 66.83L363.5 66.52M363.5 66.52L364.5 66.26M364.5 66.26L365.5 66.08M365.5 66.08L366.5 66M366.5 66L367.5 66.06M367.5 66.06L368.5 66.29M368.5 66.29L369.5 66.65M369.5 66.65L370.5 67.1M370.5 67.1L371.5 67.64M371.5 67.64L372.5 68.55M396.5 111.48L397.5 112.47M397.5 112.47L398.5 113.38M398.5 113.38L399.5 114.25M399.5 114.25L400.5 115.08M400.5 115.08L401.5 115.9M401.5 115.9L402.5 116.7M402.5 116.7L403.5 117.47M403.5 117.47L404.5 118.2M404.5 118.2L405.5 118.89M405.5 118.89L406.5 119.52M406.5 119.52L407.5 120.09M407.5 120.09L408.5 120.61M408.5 120.61L409.5 121.09M409.5 121.09L410.5 121.54M410.5 121.54L411.5 121.97M411.5 121.97L412.5 122.37M412.5 122.37L413.5 122.76M413.5 122.76L414.5 123.12M414.5 123.12L415.5 123.47M415.5 123.47L416.5 123.8M416.5 123.8L417.5 124.14M417.5 124.14L418.5 124.46M418.5 124.46L419.5 124.71M419.5 124.71L420.5 124.87M420.5 124.87L421.5 124.97M421.5 124.97L422.5 125.06M422.5 125.06L423.5 125.13M423.5 125.13L424.5 125.19M424.5 125.19L425.5 125.27M425.5 125.27L426.5 125.36M426.5 125.36L427.5 125.47M427.5 125.47L428.5 125.6M428.5 125.6L429.5 125.74M429.5 125.74L430.5 125.9M430.5 125.9L431.5 126.07M431.5 126.07L432.5 126.25M432.5 126.25L433.5 126.44M433.5 126.44L434.5 126.64M434.5 126.64L435.5 126.85M435.5 126.85L436.5 127.08M436.5 127.08L437.5 127.33M437.5 127.33L438.5 127.59M438.5 127.59L439.5 127.88M439.5 127.88L440.5 128.2M440.5 128.2L441.5 128.56M441.5 128.56L442.5 129M442.5 129L443.5 129.5M443.5 129.5L444.5 130.04M444.5 130.04L445.5 130.58M445.5 130.58L446.5 131.11M446.5 131.11L447.5 131.61M447.5 131.61L448.5 132.06M448.5 132.06L449.5 132.49M449.5 132.49L450.5 132.91M450.5 132.91L451.5 133.32M451.5 133.32L452.5 133.73M452.5 133.73L453.5 134.14M453.5 134.14L454.5 134.56M454.5 134.56L455.5 134.99M455.5 134.99L456.5 135.45M456.5 135.45L457.5 135.91M457.5 135.91L458.5 136.36M458.5 136.36L459.5 136.79M459.5 136.79L460.5 137.18M460.5 137.18L461.5 137.5M461.5 137.5L462.5 137.8M462.5 137.8L463.5 138.11M463.5 138.11L464.5 138.39M464.5 138.39L465.5 138.61M465.5 138.61L466.5 138.76M466.5 138.76L467.5 138.8M467.5 138.8L468.5 138.76M468.5 138.76L469.5 138.68M469.5 138.68L470.5 138.55M470.5 138.55L471.5 138.38M471.5 138.38L472.5 138.01M481.5 98.78L482.5 97.87M491.5 148.03L492.5 148.98M492.5 148.98L493.5 149.77M493.5 149.77L494.5 150.43M494.5 150.43L495.5 151.01M495.5 151.01L496.5 151.52M496.5 151.52L497.5 151.97M497.5 151.97L498.5 152.37M498.5 152.37L499.5 152.74M499.5 152.74L500.5 153.09M500.5 153.09L501.5 153.43M501.5 153.43L502.5 153.77M502.5 153.77L503.5 154.09M503.5 154.09L504.5 154.4M504.5 154.4L505.5 154.68M505.5 154.68L506.5 154.96M506.5 154.96L507.5 155.24M507.5 155.24L508.5 155.54M508.5 155.54L509.5 155.86M509.5 155.86L510.5 156.22M510.5 156.22L511.5 156.61M511.5 156.61L512.5 157.02M512.5 157.02L513.5 157.46" stroke="#0a12e6" stroke-width="4.6" fill="none" stroke-linecap="round"/>
<path d="M187.5 98.41L188.5 97.31M188.5 97.31L189.5 95.93M204.5 73.14L205.5 71.7M205.5 71.7L206.5 70.32M206.5 70.32L207.5 68.98M207.5 68.98L208.5 67.67M208.5 67.67L209.5 66.4M209.5 66.4L210.5 65.15M210.5 65.15L211.5 63.93M211.5 63.93L212.5 62.76M212.5 62.76L213.5 61.64M213.5 61.64L214.5 60.5M214.5 60.5L215.5 59.47M352.5 74.33L353.5 73.31M353.5 73.31L354.5 72.23M372.5 68.55L373.5 69.78M373.5 69.78L374.5 71.18M374.5 71.18L375.5 72.6M375.5 72.6L376.5 74.04M393.5 107.79L394.5 109.2M394.5 109.2L395.5 110.4M395.5 110.4L396.5 111.48M472.5 138.01L473.5 136.93M490.5 146.89L491.5 148.03" stroke="#0a12e6" stroke-width="3.94" fill="none" stroke-linecap="round"/>
<path d="M189.5 95.93L190.5 94.36M190.5 94.36L191.5 92.74M191.5 92.74L192.5 91.2M192.5 91.2L193.5 89.71M193.5 89.71L194.5 88.21M194.5 88.21L195.5 86.7M195.5 86.7L196.5 85.2M196.5 85.2L197.5 83.7M197.5 83.7L198.5 82.2M198.5 82.2L199.5 80.7M199.5 80.7L200.5 79.2M200.5 79.2L201.5 77.7M201.5 77.7L202.5 76.17M202.5 76.17L203.5 74.64M203.5 74.64L204.5 73.14M376.5 74.04L377.5 75.62M377.5 75.62L378.5 77.31M378.5 77.31L379.5 79.14M391.5 104.31L392.5 106.14M392.5 106.14L393.5 107.79M473.5 136.93L474.5 135.33M489.5 145.43L490.5 146.89" stroke="#0a12e6" stroke-width="3.28" fill="none" stroke-linecap="round"/>
<path d="M379.5 79.14L380.5 81.13M380.5 81.13L381.5 83.42M383.5 88.29L384.5 90.53M384.5 90.53L385.5 92.62M385.5 92.62L386.5 94.64M386.5 94.64L387.5 96.61M387.5 96.61L388.5 98.52M388.5 98.52L389.5 100.43M389.5 100.43L390.5 102.39M390.5 102.39L391.5 104.31M474.5 135.33L475.5 133.11M488.5 143.3L489.5 145.43" stroke="#0a12e6" stroke-width="2.62" fill="none" stroke-linecap="round"/>
<path d="M381.5 83.42L382.5 85.87M382.5 85.87L383.5 88.29" stroke="#0a12e6" stroke-width="1.96" fill="none" stroke-linecap="round"/>
<path d="M475.5 133.11L476.5 129.58M476.5 129.58L477.5 125.07M477.5 125.07L478.5 118.98M478.5 118.98L479.5 112.13M479.5 112.13L480.5 104.59M480.5 104.59L481.5 98.78M482.5 97.87L483.5 103.33M483.5 103.33L484.5 115.18M484.5 115.18L485.5 126.55M485.5 126.55L486.5 135.25M486.5 135.25L487.5 140.3M487.5 140.3L488.5 143.3" stroke="#0a12e6" stroke-width="1.3" fill="none" stroke-linecap="round"/>
<path d="M37.5 93.3L37.8 93.79L38.1 93.07L38.4 92.29L38.7 92.98L39 92.31L39.3 93.87L39.6 95.76L39.9 93.29L40.2 93.2L40.5 94.86L40.8 94.77L41.1 94.52L41.4 93.18L41.7 94.54L42 95.67L42.3 92.92L42.6 94.27L42.9 92.36L43.2 93.33L43.5 92.66L43.8 95.03L44.1 93.69L44.4 95.96L44.7 95.92L45 95.55L45.3 92.4L45.6 95.28L45.9 96.08L46.2 96.42L46.5 94.23L46.8 95.82L47.1 95.23L47.4 95.57L47.7 98.3L48 95.79L48.3 96.98L48.6 98.37L48.9 96.42L49.2 97.19L49.5 97.6L49.8 97.64L50.1 95.94L50.4 97.86L50.7 99.76L51 95.79L51.3 99.26L51.6 98.33L51.9 97.36L52.2 101.16L52.5 99.53L52.8 96.89L53.1 98.77L53.4 99.57L53.7 98.6L54 99.92L54.3 98.97L54.6 100.1L54.9 101.28L55.2 98.42L55.5 99.75L55.8 98.92L56.1 99.85L56.4 98.11L56.7 99.06L57 99.7L57.3 101.33L57.6 101.78L57.9 98.42L58.2 99.26L58.5 101.38L58.8 97.79L59.1 100.03L59.4 100.65L59.7 102.65L60 101.96L60.3 100.64L60.6 100.68L60.9 100.95L61.2 103.54L61.5 100.92L61.8 101.19L62.1 102.22L62.4 101.66L62.7 101.66L63 100.48L63.3 102.13L63.6 101.64L63.9 104L64.2 103.38L64.5 102.54L64.8 103.62L65.1 102.32L65.4 104.37L65.7 103L66 103.93L66.3 101.42L66.6 103.82L66.9 101.08L67.2 100.7L67.5 103.23L67.8 102.51L68.1 104.1L68.4 107.13L68.7 102.93L69 103.33L69.3 104.6L69.6 105.11L69.9 104.28L70.2 104.35L70.5 105.73L70.8 105.58L71.1 103.51L71.4 104.96L71.7 105.23L72 103.81L72.3 105.76L72.6 104.3L72.9 106.97L73.2 105.99L73.5 105.95L73.8 105.1L74.1 105.87L74.4 103.35L74.7 104.67L75 106.87L75.3 103.48L75.6 107.76L75.9 104.23L76.2 107.84L76.5 105.71L76.8 108.09L77.1 107.28L77.4 105.05L77.7 109.06L78 109.44L78.3 107.43L78.6 107.24L78.9 107.51L79.2 106.47L79.5 109.48L79.8 107.29L80.1 108.08L80.4 107.15L80.7 107.49L81 106.68L81.3 110.33L81.6 108.46L81.9 110.13L82.2 108.9L82.5 108.02L82.8 108.64L83.1 108.42L83.4 109.32L83.7 108.88L84 109.09L84.3 107.69L84.6 108.59L84.9 112.14L85.2 108.99L85.5 108.56L85.8 110.62L86.1 112.22L86.4 108.32L86.7 110.17L87 109.68L87.3 108.21L87.6 111.81L87.9 110.85L88.2 111.09L88.5 110.04L88.8 111.84L89.1 110.55L89.4 111.22L89.7 109.97L90 109.93L90.3 113.62L90.6 111.15L90.9 112.39L91.2 112.04L91.5 111.59L91.8 111.61L92.1 113.32L92.4 112.14L92.7 112.46L93 112.82L93.3 114.56L93.6 113.98L93.9 113.68L94.2 112.47L94.5 111.44L94.8 114.82L95.1 114.95L95.4 113.51L95.7 114.58L96 115.03L96.3 115.2L96.6 115.44L96.9 113.61L97.2 116.47L97.5 112.71L97.8 115.76L98.1 115.34L98.4 115.97L98.7 117.47L99 117L99.3 113.41L99.6 112.73L99.9 116.32L100.2 113.83L100.5 115.31L100.8 116.58L101.1 113.18L101.4 112.6L101.7 115.99L102 115.76L102.3 115.43L102.6 115.9L102.9 114.71L103.2 113.87L103.5 115.83L103.8 114.77L104.1 113.9L104.4 116.97L104.7 116.25L105 116.97L105.3 115.08L105.6 115.61L105.9 115.19L106.2 115.41L106.5 116.99L106.8 115.68L107.1 117.33L107.4 117.37L107.7 119.79L108 115.06L108.3 118.31L108.6 117L108.9 117.16L109.2 115.2L109.5 116.64L109.8 118.38L110.1 117.27L110.4 117.55L110.7 117.08L111 119.15L111.3 117.55L111.6 114.55L111.9 116.71L112.2 114.96L112.5 113.21L112.8 117.06L113.1 119.71L113.4 117.95L113.7 116.28L114 116.65L114.3 119.59L114.6 118.27L114.9 118.15L115.2 118.05L115.5 118.22L115.8 119.34L116.1 119.02L116.4 118.59L116.7 116.87L117 119.08L117.3 117.45L117.6 119.98L117.9 116.71L118.2 118.33L118.5 118.55L118.8 116.75L119.1 121.05L119.4 120.72L119.7 118.06L120 119.83L120.3 119.31L120.6 115.15L120.9 119.2L121.2 118.79L121.5 119.02L121.8 117.43L122.1 118.59L122.4 118.74L122.7 120.68L123 119.51L123.3 119.05L123.6 121.22L123.9 118.32L124.2 118.57L124.5 116.59L124.8 121.35L125.1 120.51L125.4 120.46L125.7 120.12L126 119.34L126.3 119.5L126.6 118.85L126.9 118.91L127.2 119.28L127.5 121.32L127.8 119.98L128.1 119.12L128.4 118.39L128.7 118.31L129 121.44L129.3 119.91L129.6 119.29L129.9 118.72L130.2 117.65L130.5 119.11L130.8 120.42L131.1 118.65L131.4 118.88L131.7 118.89L132 119.35L132.3 116.97L132.6 118.87L132.9 118L133.2 120.44L133.5 118.12L133.8 120.01L134.1 121.33L134.4 118.76L134.7 118.36L135 119.47L135.3 119.2L135.6 117.81L135.9 119.85L136.2 122.02L136.5 118.84L136.8 118.92L137.1 117.74L137.4 119.65L137.7 117.45L138 117.65L138.3 120.98L138.6 117.91L138.9 120.68L139.2 121.28L139.5 119.49L139.8 119.88L140.1 121.81L140.4 118.77L140.7 118.18L141 117.08L141.3 118.99L141.6 120.96L141.9 120.19L142.2 117.48L142.5 117.56L142.8 118L143.1 119.06L143.4 118.31L143.7 118.85L144 118.91L144.3 118.02L144.6 118.32L144.9 118.61L145.2 118.15L145.5 118.91L145.8 120.77L146.1 118.92L146.4 118.11L146.7 115.61L147 118.46L147.3 115.14L147.6 115.83L147.9 118.94L148.2 118.66L148.5 117.39L148.8 115.14L149.1 116.94L149.4 116.43L149.7 118.19L150 120.38L150.3 117.44L150.6 115.96L150.9 115.33L151.2 116.8L151.5 116.54L151.8 115.09L152.1 116.77L152.4 114.9L152.7 117.97L153 117.81L153.3 117.74L153.6 115.47L153.9 116.75L154.2 115.75L154.5 115.29L154.8 115.27L155.1 113.83L155.4 113.53L155.7 116.56L156 115.09L156.3 115.57L156.6 116.57L156.9 112.65L157.2 113.88L157.5 115.13L157.8 115.34L158.1 114.17L158.4 116.05L158.7 114.81L159 112.72L159.3 113.02L159.6 115.35L159.9 114.78L160.2 111.37L160.5 115.82L160.8 114.67L161.1 115.61L161.4 113.09L161.7 113.11L162 111.85L162.3 116.87L162.6 112.97L162.9 115.33L163.2 112.09L163.5 113.11L163.8 110.43L164.1 112.12L164.4 113.92L164.7 110.67L165 113.8L165.3 112.65L165.6 110.59L165.9 111.22L166.2 111.15L166.5 111.59L166.8 110.77L167.1 110.22L167.4 110.81L167.7 109.66L168 109.14L168.3 110.73L168.6 111.89L168.9 108.36L169.2 110.35L169.5 109.28L169.8 108.67L170.1 111.07L170.4 108.99L170.7 111.66L171 108.31L171.3 109.78L171.6 108.76L171.9 107.86L172.2 109.58L172.5 108.37L172.8 109.27L173.1 108.2L173.4 106.57L173.7 107.78L174 107.83L174.3 108.93L174.6 106.14L174.9 107.18L175.2 104.65L175.5 107.8L175.8 105.19L176.1 104L176.4 106.26L176.7 107.71L177 103.84L177.3 104.27L177.6 104.56L177.9 103.83L178.2 105.75L178.5 103.89L178.8 103.82L179.1 105.45L179.4 103.38L179.7 104.84L180 102.67L180.3 102.14L180.6 101.07L180.9 106.05L181.2 102.8L181.5 103.39L181.8 102.81L182.1 102.88L182.4 102.53L182.7 104.93L183 100.6L183.3 99.67L183.6 100.22L183.9 99.55L184.2 102.25L184.5 102.13L184.8 99.41L185.1 98.58L185.4 99.79L185.7 101.99L186 95.84L186.3 100.26L186.6 97.75L186.9 100.44L187.2 97.19L187.5 98.01L187.8 95.99L188.1 96.42L188.4 99.38L188.7 98.2L189 96.09L189.3 95L189.6 93.12L189.9 94.76L190.2 94.8L190.5 94.24L190.8 93.74L191.1 91.81L191.4 92.81L191.7 92.37L192 93.76L192.3 94.11L192.6 90.86L192.9 89.53L193.2 90.07L193.5 88.86L193.8 88.22L194.1 88.73L194.4 86.9L194.7 88.75L195 87.31L195.3 87.35L195.6 86.3L195.9 85.08L196.2 84.32L196.5 84.87L196.8 83.98L197.1 84.63L197.4 83.84L197.7 81.49L198 83.04L198.3 80.62L198.6 81.19L198.9 81.19L199.2 78.24L199.5 80.83L199.8 80.46L200.1 79.58L200.4 78.76L200.7 78.38L201 77.08L201.3 77.62L201.6 76.77L201.9 77.22L202.2 74.94L202.5 76.5L202.8 75.91L203.1 75.05L203.4 74.18L203.7 75.11L204 71.56L204.3 74.08L204.6 73.34L204.9 72.95L205.2 72.66L205.5 70.78L205.8 70.92L206.1 71.76L206.4 71.06L206.7 70.34L207 67.52L207.3 70L207.6 70.48L207.9 69.87L208.2 68.39L208.5 65.49L208.8 68.61L209.1 66.7L209.4 62.98L209.7 66.68L210 63.69L210.3 63.59L210.6 64.14L210.9 66.44L211.2 63.78L211.5 64.31L211.8 66.02L212.1 65.46L212.4 62.73L212.7 62.2L213 60.43L213.3 60.89L213.6 62.12L213.9 61.73L214.2 60.99L214.5 61.89L214.8 59.09L215.1 59.78L215.4 60.59L215.7 60.11L216 60.55L216.3 59.39L216.6 58.18L216.9 58.91L217.2 56.78L217.5 55.68L217.8 58.58L218.1 57.48L218.4 57.78L218.7 54.77L219 56.44L219.3 55.92L219.6 55.36L219.9 53.24L220.2 55.76L220.5 57.33L220.8 56.46L221.1 54.95L221.4 55.64L221.7 56.61L222 51.59L222.3 55.2L222.6 56.06L222.9 56.21L223.2 57.6L223.5 56.79L223.8 55.64L224.1 55.66L224.4 56.38L224.7 54.59L225 55.38L225.3 56.81L225.6 58.39L225.9 55.56L226.2 55.85L226.5 56.34L226.8 58.1L227.1 56.34L227.4 58.6L227.7 55.35L228 56.61L228.3 56.75L228.6 58.28L228.9 58.8L229.2 55.36L229.5 56.33L229.8 58.2L230.1 56.91L230.4 55.81L230.7 59.49L231 58.83L231.3 58.93L231.6 57.67L231.9 59.88L232.2 58.2L232.5 60.16L232.8 57.44L233.1 57.62L233.4 59.19L233.7 58.01L234 60.03L234.3 59.54L234.6 57.97L234.9 59.45L235.2 58.95L235.5 60.81L235.8 58.73L236.1 59.08L236.4 61.48L236.7 63L237 62.75L237.3 60.12L237.6 60.43L237.9 62.35L238.2 60.11L238.5 59L238.8 60.62L239.1 61.17L239.4 59.46L239.7 58.4L240 58.78L240.3 61.81L240.6 59.9L240.9 60.85L241.2 61.43L241.5 62.08L241.8 60.83L242.1 62.08L242.4 60.23L242.7 61.06L243 60.22L243.3 63.32L243.6 61.79L243.9 60.89L244.2 61.52L244.5 61.79L244.8 63.17L245.1 60.05L245.4 60.92L245.7 61.93L246 66.09L246.3 63.98L246.6 62.57L246.9 63.82L247.2 65.79L247.5 62.67L247.8 62.57L248.1 64.87L248.4 63.96L248.7 64.3L249 62.74L249.3 66.23L249.6 66.02L249.9 64.51L250.2 64.77L250.5 61.06L250.8 64.88L251.1 63.81L251.4 64.78L251.7 65.22L252 63.88L252.3 62.08L252.6 65.06L252.9 63.6L253.2 64.26L253.5 63.97L253.8 64.43L254.1 61.77L254.4 66.8L254.7 65.55L255 66.85L255.3 68.16L255.6 65.51L255.9 63.05L256.2 64.42L256.5 64.08L256.8 65.16L257.1 66.08L257.4 63.26L257.7 66.64L258 64.15L258.3 66.78L258.6 66.3L258.9 66.12L259.2 66.55L259.5 66L259.8 66L260.1 64.6L260.4 67.02L260.7 69.74L261 70.03L261.3 69.21L261.6 68.45L261.9 66.62L262.2 69.69L262.5 67.69L262.8 67.78L263.1 67.57L263.4 68.21L263.7 67.58L264 68.17L264.3 66.88L264.6 67.98L264.9 71.8L265.2 68.61L265.5 68.48L265.8 69.67L266.1 70.02L266.4 67.58L266.7 68.96L267 70.64L267.3 69.84L267.6 69.74L267.9 71.85L268.2 68.84L268.5 70.01L268.8 69.28L269.1 72.2L269.4 67.5L269.7 69.4L270 69.71L270.3 71.49L270.6 71.52L270.9 72.74L271.2 68.7L271.5 72.07L271.8 70.73L272.1 70.33L272.4 72.13L272.7 70.21L273 68.72L273.3 71.23L273.6 69.77L273.9 71.09L274.2 72.64L274.5 72.68L274.8 74.6L275.1 72.22L275.4 70.48L275.7 71.7L276 71.6L276.3 71.31L276.6 73.75L276.9 72.37L277.2 70.63L277.5 74.5L277.8 73.49L278.1 74.28L278.4 74.05L278.7 74.91L279 74.21L279.3 76.01L279.6 75L279.9 75.07L280.2 75.22L280.5 72.73L280.8 74.66L281.1 74.64L281.4 75.41L281.7 73.34L282 77.64L282.3 75.61L282.6 73.88L282.9 73.29L283.2 75.4L283.5 75.77L283.8 74.99L284.1 76.23L284.4 75.31L284.7 77.08L285 75.39L285.3 76.46L285.6 77.98L285.9 80.31L286.2 75.4L286.5 76.26L286.8 75.84L287.1 78.21L287.4 75.6L287.7 76.63L288 77.37L288.3 76.14L288.6 76.26L288.9 77.03L289.2 74.85L289.5 75.87L289.8 77.41L290.1 78.28L290.4 77.91L290.7 75.78L291 77.7L291.3 79.56L291.6 79.31L291.9 78.51L292.2 77.46L292.5 79.68L292.8 78.07L293.1 77.32L293.4 77.92L293.7 81.15L294 79.51L294.3 80.91L294.6 78.69L294.9 80.75L295.2 78.67L295.5 79.37L295.8 83.14L296.1 80.8L296.4 79.1L296.7 79.75L297 80.39L297.3 81.69L297.6 79.38L297.9 77.69L298.2 79.8L298.5 80.27L298.8 80.46L299.1 82.21L299.4 80.86L299.7 81.62L300 78.99L300.3 81.8L300.6 83.57L300.9 81.77L301.2 81.1L301.5 81.01L301.8 83.35L302.1 79.6L302.4 80.79L302.7 81.64L303 82.08L303.3 80.48L303.6 81.57L303.9 80.8L304.2 81.4L304.5 81.09L304.8 79.73L305.1 81.34L305.4 82.65L305.7 80.11L306 81.17L306.3 82.49L306.6 80.11L306.9 81.91L307.2 80.21L307.5 83.33L307.8 85.03L308.1 84.67L308.4 81.58L308.7 82.97L309 82.15L309.3 82.18L309.6 84.25L309.9 80.29L310.2 83.67L310.5 82.18L310.8 84.28L311.1 82.63L311.4 81.48L311.7 82.87L312 83.57L312.3 82.65L312.6 83.34L312.9 81.99L313.2 79.79L313.5 84.1L313.8 83.88L314.1 83.17L314.4 83.11L314.7 84.52L315 82.49L315.3 82.2L315.6 82.98L315.9 84.96L316.2 81.4L316.5 85.06L316.8 82.55L317.1 81.95L317.4 85.3L317.7 83.44L318 81.8L318.3 83.15L318.6 85L318.9 85.4L319.2 83.16L319.5 84.36L319.8 84.81L320.1 82.93L320.4 84.35L320.7 83.83L321 83.13L321.3 83.2L321.6 83.99L321.9 83.94L322.2 83.11L322.5 83.3L322.8 85.45L323.1 84.19L323.4 85.13L323.7 85.56L324 84.7L324.3 87.05L324.6 82.7L324.9 84.98L325.2 83.4L325.5 86.43L325.8 86.2L326.1 81.07L326.4 82.44L326.7 84.71L327 84.87L327.3 84.78L327.6 83.64L327.9 84.36L328.2 84.62L328.5 83.58L328.8 85.11L329.1 80.49L329.4 84.52L329.7 82.16L330 84.93L330.3 83.25L330.6 82.31L330.9 84.05L331.2 82.23L331.5 82.21L331.8 81.26L332.1 83.39L332.4 84.08L332.7 84.78L333 83.1L333.3 84.72L333.6 83.23L333.9 83.01L334.2 83.89L334.5 84.5L334.8 82.47L335.1 82.54L335.4 82.58L335.7 82.84L336 81.39L336.3 84L336.6 81.92L336.9 83.04L337.2 81.15L337.5 82.71L337.8 82.66L338.1 81.43L338.4 84.75L338.7 82.34L339 84.2L339.3 82.95L339.6 80.58L339.9 80.87L340.2 81.9L340.5 81.27L340.8 81.15L341.1 80.57L341.4 78.33L341.7 80.43L342 77.53L342.3 81.05L342.6 79.39L342.9 79.29L343.2 79.86L343.5 80.42L343.8 77.9L344.1 77.32L344.4 78.13L344.7 76.62L345 77.97L345.3 81.4L345.6 77.53L345.9 79.76L346.2 76.77L346.5 78.94L346.8 77.9L347.1 78.08L347.4 78.78L347.7 80.26L348 77.89L348.3 77.6L348.6 75.87L348.9 77.85L349.2 76.49L349.5 77.8L349.8 76.36L350.1 78.65L350.4 73.23L350.7 75.37L351 76.8L351.3 74.86L351.6 74.01L351.9 74.51L352.2 72.68L352.5 74.5L352.8 77.45L353.1 75.33L353.4 71.86L353.7 71.87L354 72.2L354.3 73.85L354.6 70.98L354.9 70.85L355.2 72.76L355.5 72.45L355.8 70.44L356.1 69.15L356.4 68.3L356.7 69.25L357 66.85L357.3 70.78L357.6 68.6L357.9 69.92L358.2 71.63L358.5 70.43L358.8 66.96L359.1 69.58L359.4 69.78L359.7 66.93L360 66.48L360.3 67.5L360.6 65.28L360.9 69.46L361.2 63.92L361.5 65.63L361.8 66.7L362.1 66.65L362.4 67.1L362.7 67.15L363 66.37L363.3 68.17L363.6 63.5L363.9 66.41L364.2 65.33L364.5 66.45L364.8 66.51L365.1 64.87L365.4 65.2L365.7 67.17L366 66.52L366.3 65.06L366.6 68.86L366.9 69.24L367.2 63.98L367.5 66.48L367.8 69.63L368.1 67.28L368.4 66.57L368.7 66.06L369 65.7L369.3 66.28L369.6 65.93L369.9 67.87L370.2 66.41L370.5 66.49L370.8 65.57L371.1 67.33L371.4 66.32L371.7 67.54L372 69.51L372.3 68.85L372.6 69.37L372.9 69.51L373.2 69.47L373.5 69.6L373.8 69.76L374.1 71.67L374.4 69.52L374.7 73.34L375 71.94L375.3 71.27L375.6 72.05L375.9 72.21L376.2 73.82L376.5 73.04L376.8 76.1L377.1 73.88L377.4 72.27L377.7 74.92L378 73.64L378.3 76.91L378.6 78.97L378.9 78.93L379.2 76.7L379.5 78.07L379.8 82.2L380.1 80.74L380.4 80.92L380.7 83.05L381 85.68L381.3 84.76L381.6 83.86L381.9 84.89L382.2 85.99L382.5 85.01L382.8 85.12L383.1 87.41L383.4 86.73L383.7 88.67L384 89.58L384.3 93.38L384.6 89.55L384.9 91.2L385.2 91.77L385.5 93.23L385.8 94.7L386.1 93.16L386.4 93.29L386.7 92.74L387 94.34L387.3 96.97L387.6 96.86L387.9 95.96L388.2 97.43L388.5 98.57L388.8 99.79L389.1 98.83L389.4 99.89L389.7 98.28L390 99.8L390.3 104.26L390.6 99.52L390.9 102.69L391.2 104.05L391.5 103.79L391.8 103.74L392.1 105.34L392.4 105.95L392.7 106.37L393 104.36L393.3 107.27L393.6 106.74L393.9 107.62L394.2 109.12L394.5 110.1L394.8 110.83L395.1 109.24L395.4 111.58L395.7 112.27L396 112.55L396.3 113.22L396.6 111.38L396.9 111.64L397.2 113.34L397.5 110.56L397.8 113.04L398.1 112.28L398.4 112.78L398.7 111.12L399 112.57L399.3 114.05L399.6 115.58L399.9 115.97L400.2 114.72L400.5 114.82L400.8 114.17L401.1 116.14L401.4 115.48L401.7 116.91L402 118.76L402.3 116.5L402.6 114.69L402.9 115.81L403.2 115.2L403.5 115.8L403.8 119.52L404.1 118.23L404.4 116L404.7 119.26L405 120.32L405.3 118.25L405.6 118.01L405.9 118.68L406.2 119.74L406.5 120.42L406.8 121.36L407.1 121.57L407.4 121.7L407.7 122.11L408 121.28L408.3 118.37L408.6 120.47L408.9 121.24L409.2 120.41L409.5 122.37L409.8 120.73L410.1 120.07L410.4 123.52L410.7 122.56L411 122.07L411.3 123.19L411.6 123.5L411.9 122.61L412.2 118.81L412.5 121.43L412.8 121.85L413.1 121.23L413.4 123L413.7 124.5L414 122.26L414.3 121.46L414.6 125.99L414.9 122.63L415.2 121.64L415.5 123.8L415.8 124.16L416.1 122.68L416.4 124.87L416.7 123.18L417 122.68L417.3 124.32L417.6 125.25L417.9 123.38L418.2 124.83L418.5 124.33L418.8 128.5L419.1 123.63L419.4 126.63L419.7 124.68L420 124.62L420.3 125.85L420.6 126.13L420.9 126.69L421.2 125.4L421.5 124.13L421.8 124.25L422.1 125.74L422.4 125.86L422.7 127.03L423 125.68L423.3 126.6L423.6 127.26L423.9 125.39L424.2 123.09L424.5 123.54L424.8 123.2L425.1 127.47L425.4 124.07L425.7 127.01L426 126.13L426.3 127.74L426.6 126.77L426.9 125.26L427.2 125.15L427.5 125.59L427.8 125.75L428.1 124.8L428.4 125.54L428.7 127.88L429 123.29L429.3 126.08L429.6 124.49L429.9 126.07L430.2 127.03L430.5 125.82L430.8 127.03L431.1 123.78L431.4 127.6L431.7 125.26L432 127.03L432.3 126.47L432.6 122.65L432.9 125.27L433.2 126.69L433.5 128.62L433.8 126.9L434.1 126.92L434.4 124.64L434.7 128.69L435 129.27L435.3 126.85L435.6 126.57L435.9 124.68L436.2 128.25L436.5 130.86L436.8 128.16L437.1 129L437.4 128.06L437.7 126L438 129.33L438.3 125.81L438.6 127.33L438.9 128.1L439.2 129.03L439.5 128.47L439.8 128.52L440.1 127L440.4 126.36L440.7 128.35L441 127.38L441.3 126.65L441.6 126.83L441.9 128.04L442.2 126.27L442.5 127.11L442.8 126.86L443.1 129.55L443.4 130.02L443.7 132.42L444 127.67L444.3 128.98L444.6 131.37L444.9 129.95L445.2 129.96L445.5 132.97L445.8 130.27L446.1 129.29L446.4 129.22L446.7 131.69L447 131.79L447.3 129.59L447.6 130.27L447.9 132.54L448.2 132.73L448.5 131.16L448.8 133.06L449.1 133.12L449.4 129.95L449.7 132.14L450 133.28L450.3 132.02L450.6 129.96L450.9 132.68L451.2 134.25L451.5 135.54L451.8 130.38L452.1 137.23L452.4 132.11L452.7 135.15L453 135.66L453.3 135.44L453.6 134.39L453.9 132.68L454.2 135.31L454.5 133.56L454.8 131.15L455.1 138.77L455.4 135.94L455.7 137.63L456 133.94L456.3 137.41L456.6 137.72L456.9 137.81L457.2 135.74L457.5 134.23L457.8 135.8L458.1 133.1L458.4 133.94L458.7 136.58L459 135.19L459.3 136.48L459.6 136.68L459.9 139.65L460.2 138.88L460.5 137.11L460.8 138.97L461.1 136.29L461.4 137L461.7 138.83L462 135.91L462.3 137.35L462.6 135.98L462.9 138.09L463.2 140.3L463.5 137.05L463.8 138.51L464.1 137.02L464.4 136.75L464.7 136.71L465 140.55L465.3 141.88L465.6 139.31L465.9 137.68L466.2 139.71L466.5 138.29L466.8 139.91L467.1 139.2L467.4 139.19L467.7 139.65L468 137.98L468.3 138.21L468.6 136.35L468.9 138.12L469.2 136.72L469.5 138.48L469.8 137.31L470.1 138.75L470.4 139.2L470.7 136.54L471 137.34L471.3 137.1L471.6 139.41L471.9 140.69L472.2 139.39L472.5 137.52L472.8 139.81L473.1 135.32L473.4 139.16L473.7 135.72L474 132.28L474.3 139.39L474.6 137.37L474.9 133.17L475.2 134.17L475.5 132.81L475.8 132.31L476.1 129.04L476.4 129.02L476.7 129.42L477 127.81L477.3 127.79L477.6 124.64L477.9 126.08L478.2 119.92L478.5 119.34L478.8 114.3L479.1 113.21L479.4 114.75L479.7 109.25L480 108.92L480.3 105.84L480.6 102.54L480.9 101.73L481.2 99.67L481.5 98.1L481.8 98.69L482.1 98.11L482.4 96.78L482.7 97.36L483 100.55L483.3 101.87L483.6 105.44L483.9 110.53L484.2 111.96L484.5 115.14L484.8 119.09L485.1 121.4L485.4 124.3L485.7 127.06L486 130.66L486.3 133.13L486.6 136.99L486.9 137.24L487.2 138.92L487.5 138.6L487.8 143.61L488.1 142.93L488.4 145.55L488.7 144.91L489 146.55L489.3 144.71L489.6 146.6L489.9 149.86L490.2 144.79L490.5 148.53L490.8 149.63L491.1 148.19L491.4 149L491.7 150.03L492 147.59L492.3 149.39L492.6 147.82L492.9 148.35L493.2 148.66L493.5 149.56L493.8 150.19L494.1 150.83L494.4 148.34L494.7 153.39L495 152.39L495.3 151.94L495.6 150.55L495.9 151.09L496.2 152.16L496.5 152.11L496.8 149.25L497.1 152.86L497.4 156.11L497.7 149.4L498 153.6L498.3 152.83L498.6 152.25L498.9 154.5L499.2 150.94L499.5 152.98L499.8 154.95L500.1 152.67L500.4 152.46L500.7 153.33L501 152.62L501.3 155.59L501.6 152.16L501.9 154.82L502.2 151.86L502.5 154.73L502.8 153.72L503.1 150.25L503.4 154.05L503.7 152.62L504 153.61L504.3 156.55L504.6 152.82L504.9 152.99L505.2 156.67L505.5 154.85L505.8 156.99L506.1 155.32L506.4 153.66L506.7 154.92L507 156.87L507.3 156.54L507.6 155.27L507.9 155.43L508.2 155.29L508.5 154.71L508.8 158.41L509.1 155.74L509.4 154.2L509.7 155.24L510 157.08L510.3 157.07L510.6 156.06L510.9 155.41L511.2 156.52L511.5 154.2L511.8 154.86L512.1 158L512.4 156.29L512.7 157.65L513 158.99L513.3 158.3L513.6 157.53" stroke="#0a12e6" stroke-width="1.5" fill="none" stroke-linejoin="round"/>
<text x="62.1" y="68" class="hk">(001)</text>
<text x="484.8" y="67.8" class="hk">(122)</text><path d="M482 55.5h4.4M489.7 55.5h4.4" stroke="#222" stroke-width="1.1" fill="none"/>
<text x="122" y="105.3" class="lb">(iii)</text>
<text x="124" y="156" class="lb">(ii)</text>
<text x="125.4" y="211" class="lb">(i)</text>
<!-- panel b -->
<text x="16" y="306.3" class="pl">(b)</text>
<path d="M35.7 508.1 V516.2M54.82 508.1 V512.4M73.94 508.1 V512.4M93.06 508.1 V512.4M112.18 508.1 V512.4M131.3 508.1 V516.2M150.42 508.1 V512.4M169.54 508.1 V512.4M188.66 508.1 V512.4M207.78 508.1 V512.4M226.9 508.1 V516.2M246.02 508.1 V512.4M265.14 508.1 V512.4M284.26 508.1 V512.4M303.38 508.1 V512.4M322.5 508.1 V516.2M341.62 508.1 V512.4M360.74 508.1 V512.4M379.86 508.1 V512.4M398.98 508.1 V512.4M418.1 508.1 V516.2M437.22 508.1 V512.4M456.34 508.1 V512.4M475.46 508.1 V512.4M494.58 508.1 V512.4M513.7 508.1 V516.2" stroke="#3c3c3c" stroke-width="1.5" fill="none"/>
<rect x="33.06" y="309.3" width="483.34" height="198.8" fill="none" stroke="#3c3c3c" stroke-width="1.7"/>
<text class="yl" transform="translate(10.9 407.8) rotate(-90)">Intensity (Arb. Units)</text>
<path d="M58.1 328 V507 M112.9 328 V507 M190.75 328 V507 M484.3 328 V507" stroke="#1a1a1a" stroke-width="1.6" stroke-dasharray="2 2.03" fill="none"/>
<path d="M36 505.23L42.25 505.15L46.25 505.03L49 504.86L51 504.59L52.5 504.17L53.5 503.65L54 503.2L54.25 502.87L54.5 502.41L54.75 501.72L55 500.69L55.25 499.12L55.5 496.77L55.75 493.37L56 488.65L56.5 474.68L57.5 439L57.75 434.36L57.9 433.56L58.05 434.36L58.25 437.78L58.5 444.99L59.25 472.97L59.75 487.52L60 492.53L60.25 496.18L60.5 498.71L60.75 500.42L61 501.54L61.25 502.28L61.75 503.13L62.25 503.6L63 504.03L64 504.38L65 504.6L66.5 504.8L68.25 504.93L73.75 505.09L85.75 505.15L99 505.08L103.5 504.98L106.25 504.79L108 504.48L108.75 504.23L109.25 503.96L109.75 503.5L110 503.11L110.25 502.52L110.5 501.63L110.75 500.29L111 498.36L111.5 492.22L112.5 473.42L112.75 470.09L112.85 469.31L113 468.86L113.15 469.31L113.25 470.08L113.5 473.41L114.5 492.2L114.75 495.68L115.25 500.26L115.5 501.59L115.75 502.47L116 503.06L116.25 503.44L116.5 503.7L117 504.03L118 504.31L118.75 504.3L119.25 504.1L119.75 503.68L120.75 502.47L121.1 502.32L121.25 502.36L121.5 502.57L122.5 503.93L122.75 504.2L123.25 504.57L123.75 504.77L124.25 504.87L126.5 505.03L132.75 505.13L146 505.17L163.75 505.16L170 505.07L171.5 504.94L172.5 504.63L173.25 504.15L174.5 503.05L175 502.88L175.5 503.05L176.75 504.15L177.25 504.49L178 504.81L178.75 504.96L180.75 505.08L184.5 505.09L187 505.02L188.75 504.86L189.5 504.69L190 504.47L190.25 504.28L190.5 503.96L190.75 503.44L191 502.59L191.25 501.28L192 494.87L192.25 493.2L192.4 492.88L192.55 493.2L192.75 494.46L193.5 500.96L193.75 502.37L194 503.3L194.25 503.88L194.5 504.23L194.75 504.44L195.5 504.75L196.5 504.93L198.25 505.06L203.75 505.15L217.75 505.17L254 505.12L263 505.03L264.5 504.94L265 504.85L265.5 504.68L266 504.34L266.25 504.1L267.25 502.77L267.5 502.55L267.7 502.49L268 502.62L269 503.9L269.5 504.39L270 504.68L270.5 504.81L271.5 504.87L272.25 504.77L272.75 504.59L273.75 504.05L274.2 503.94L274.75 504.11L275.75 504.66L276.75 504.91L279 504.97L282 504.86L283 504.74L283.75 504.55L284.25 504.26L284.5 504L284.75 503.6L285.25 502.2L286.25 497.7L286.35 497.45L286.5 497.29L286.65 497.42L286.75 497.65L287.5 500.96L288 502.66L288.25 503.14L288.5 503.37L288.75 503.39L289 503.18L289.25 502.74L289.5 502.04L290.5 497.62L290.65 497.22L290.8 497.09L291 497.36L291.25 498.29L292 501.93L292.5 503.45L292.75 503.89L293.25 504.38L293.75 504.6L294.75 504.78L298 504.95L300.25 504.93L301.25 504.85L301.75 504.74L302.25 504.53L303.25 503.82L303.5 503.68L303.8 503.6L304.25 503.75L305.25 504.44L305.75 504.65L306.5 504.78L307.5 504.7L308 504.51L308.5 504.09L309 503.3L309.75 501.65L310 501.26L310.2 501.16L310.35 501.22L310.5 501.4L311.5 503.52L312 504.24L312.25 504.46L312.75 504.72L313.75 504.91L317.25 505.05L326.75 505.1L344.75 505.09L351 504.98L352.75 504.78L353.25 504.59L353.5 504.42L354 503.88L355 502.08L355.35 501.73L355.55 501.75L355.75 501.94L356.5 503.16L357 503.72L357.25 503.83L357.5 503.79L357.75 503.57L358 503.12L358.25 502.37L358.5 501.3L359.25 497.23L359.35 496.91L359.5 496.73L359.65 496.92L359.75 497.23L360.75 502.41L361 503.19L361.25 503.69L361.5 503.98L361.75 504.14L362.25 504.18L362.5 504.07L362.75 503.86L363 503.51L363.5 502.26L364.25 499.55L364.45 499.1L364.6 499L364.75 499.12L365 499.74L365.75 502.55L366 503.26L366.5 504.16L366.75 504.41L367.25 504.67L368 504.84L369 504.94L371.5 505.02L373.25 504.95L374 504.77L375.25 504.11L375.7 504L376.25 504.17L377.25 504.72L378 504.93L379.75 505.02L381.75 504.9L382.25 504.76L382.75 504.49L383.25 504.01L384.25 502.7L384.6 502.53L384.75 502.56L385 502.75L385.75 503.76L386.25 504.33L386.75 504.67L387.25 504.86L388.25 504.98L390 505.02L391.75 504.96L392.75 504.84L393.5 504.55L394 504.02L394.5 502.9L395.25 500.23L395.5 499.55L395.7 499.36L395.85 499.47L396 499.78L397 503.19L397.5 504.18L397.75 504.45L398.25 504.75L399 504.93L400 505.02L402.5 505.12L406.75 505.15L411.75 505.15L414.25 505.07L415 504.97L415.5 504.8L416 504.5L417 503.64L417.4 503.49L417.75 503.61L418.75 504.47L419.25 504.78L420 505.01L421 505.11L425.25 505.18L437.25 505.2L448.5 505.18L453.25 505.11L454.75 505L455.5 504.78L456.25 504.23L457.25 503.12L457.6 502.97L458 503.15L459 504.25L459.75 504.75L460.5 504.93L461.75 504.96L462.75 504.83L463.5 504.48L464 503.99L465 502.58L465.25 502.37L465.4 502.33L465.75 502.52L466.75 503.93L467.25 504.44L467.75 504.73L468.25 504.87L469.75 504.99L472.75 504.97L475.25 504.84L477.25 504.6L478.75 504.24L479.75 503.8L480.5 503.24L481 502.66L481.25 502.26L481.75 501.04L482 499.98L482.25 498.36L482.5 495.8L482.75 491.83L483 485.94L483.25 477.75L484.25 433.04L484.35 430.65L484.5 429.25L484.65 430.65L484.75 433.04L485.5 467.25L486 485.94L486.25 491.83L486.5 495.8L486.75 498.36L487 499.99L487.25 501.04L487.5 501.75L488 502.66L488.5 503.24L489.25 503.8L490.25 504.24L491.5 504.56L493 504.76L495.25 504.9L497.25 504.9L498.5 504.75L499 504.54L499.25 504.35L499.75 503.77L500 503.36L501 501.43L501.15 501.29L501.35 501.24L501.5 501.33L501.75 501.66L502.5 503.19L503 504L503.5 504.49L504 504.74L504.5 504.84L505 504.85L505.75 504.71L506.25 504.46L507.25 503.63L507.7 503.46L508 503.56L508.25 503.74L509.25 504.61L510 504.96L511 505.11L513 505.19" stroke="#0a0a0a" stroke-width="2.4" fill="none" stroke-linejoin="round"/>
<path d="M36 431.15L47 431.1L49.75 430.97L51.75 430.72L53 430.38L53.5 430.16L54 429.82L54.5 429.18L54.75 428.58L55 427.6L55.25 426.02L55.5 423.49L55.75 419.63L56 414.03L56.5 396.6L57.5 350.5L57.75 344.56L57.9 343.53L58.05 344.56L58.25 348.94L58.5 358.24L59.5 404.61L59.75 412.7L60 418.71L60.25 422.89L60.5 425.66L60.75 427.4L61 428.48L61.25 429.15L61.75 429.86L62.25 430.23L63 430.56L64.25 430.89L66.25 431.18L69 431.39L80 431.74L104.25 432.09L107.5 432.04L108.75 431.94L109.5 431.82L110 431.66L110.5 431.33L110.75 431.04L111 430.6L111.25 429.97L111.75 427.94L112.75 421.31L113 419.99L113.15 419.52L113.3 419.36L113.5 419.65L113.75 420.73L114.5 425.87L115 428.7L115.5 430.42L115.75 430.92L116 431.27L116.25 431.49L116.75 431.72L117.25 431.77L117.75 431.67L118.25 431.38L119.25 430.37L119.5 430.21L119.7 430.17L120 430.31L120.25 430.55L121.25 431.71L121.75 432.07L122.25 432.27L123.75 432.49L127 432.65L136.5 432.9L160 433.37L167.25 433.42L170.75 433.37L172.25 433.23L173.25 432.92L173.75 432.64L174.25 432.24L175.5 431L175.75 430.81L176.2 430.67L176.5 430.74L176.75 430.89L178.5 432.57L179 432.9L179.75 433.21L180.5 433.36L181.75 433.47L186 433.52L187.25 433.42L187.75 433.31L188.25 433.11L189 432.54L190.25 431.04L190.5 430.83L190.8 430.74L191 430.79L191.25 430.96L192.5 432.49L193 432.96L193.5 433.26L194 433.45L194.75 433.59L196.25 433.71L202.75 433.87L210 433.96L214.75 433.9L217.5 433.77L221.75 433.39L223.15 433.34L224.5 433.4L228.25 433.72L230.5 433.82L236 433.86L261 434.43L264.25 434.4L267.5 434.27L268.5 434.16L269.25 434L270.5 433.51L272.5 432.3L273.1 432.16L273.75 432.3L275.75 433.47L277 433.91L278.75 434.11L281.5 434.12L283.75 434L285 433.76L286.25 433.21L288 432.08L288.7 431.89L289 431.93L289.5 432.12L291.25 433.23L292.25 433.66L293.5 433.91L295.75 434.03L340 434.58L354.5 434.5L358.25 434.42L360.5 434.26L362.25 433.99L365.25 433.31L366.35 433.21L367.5 433.33L370 433.89L371.5 434.15L373.25 434.31L375.5 434.39L400 434.39L440 434.9L451.75 434.74L452 434.5L454 434.37L456.25 434.05L458.25 433.52L459.75 432.97L462 432.48L463.25 432.4L467 432.6L467.75 432.45L468.5 432.13L472.5 429.7L473.25 429.13L474 428.36L474.75 427.09L475.5 425.44L475.75 424.77L476.25 422.85L476.5 422.12L476.75 421.91L477 422.12L477.75 423.52L479 425.39L480 426.24L482 427.41L484 428.8L484.5 429.27L485.25 430.66L485.75 431.26L486 431.45L486.25 431.5L488.75 431.49L490.25 431.24L491 431.22L491.5 431.37L493 432.2L495.25 433.15L497.5 433.71L500.5 434.15L501.5 434.2L504 434.17L513 433.9" stroke="#4e338c" stroke-width="1.8" fill="none" stroke-linejoin="round"/>
<path d="M55.75 419.63L56 414.03L56.25 406.37L56.5 396.6L56.75 385.05L57 372.55L57.25 360.45L57.5 350.5L57.75 344.56L57.85 343.65L57.9 343.53L57.95 343.65L58 343.99L58.05 344.56L58.25 348.94L58.5 358.24L58.75 370.07L59 382.61L59.25 394.44L59.5 404.61L59.75 412.7L60 418.71M111.75 427.94L112 426.49L112.25 424.81L112.5 423.02L112.75 421.31L113 419.99L113.15 419.52L113.25 419.38L113.3 419.36L113.35 419.38L113.45 419.53L113.5 419.65L113.75 420.73L114 422.33L114.25 424.12L114.5 425.87L114.75 427.42L115 428.7" stroke="#2f1d74" stroke-width="1.8" fill="none" stroke-linejoin="round"/>
<path d="M483.5 433 L484.6 404.3 L485.7 433Z" fill="#1e1458" stroke="#1e1458" stroke-width="0.8" stroke-linejoin="round"/>
<text x="60.2" y="325" class="hk">(001)</text>
<text x="112.7" y="325" class="hk">(010)</text>
<text x="192.2" y="325" class="hk">(012)</text>
<text x="485" y="324.8" class="hk">(122)</text><path d="M482.2 312.9h4.4M489.9 312.9h4.4" stroke="#222" stroke-width="1.1" fill="none"/>
<text x="123.7" y="424.3" class="lb">(ii)</text>
<text x="126" y="499.6" class="lb">(i)</text>
<text x="35.7" y="530.4" class="tl">5</text><text x="131.3" y="530.4" class="tl">10</text><text x="226.9" y="530.4" class="tl">15</text><text x="322.5" y="530.4" class="tl">20</text><text x="418.1" y="530.4" class="tl">25</text><text x="513.7" y="530.4" class="tl">30</text>
<text x="256.4" y="544.6" class="ax">2<tspan class="th">θ</tspan> / °</text>
</svg>
</body></html>
